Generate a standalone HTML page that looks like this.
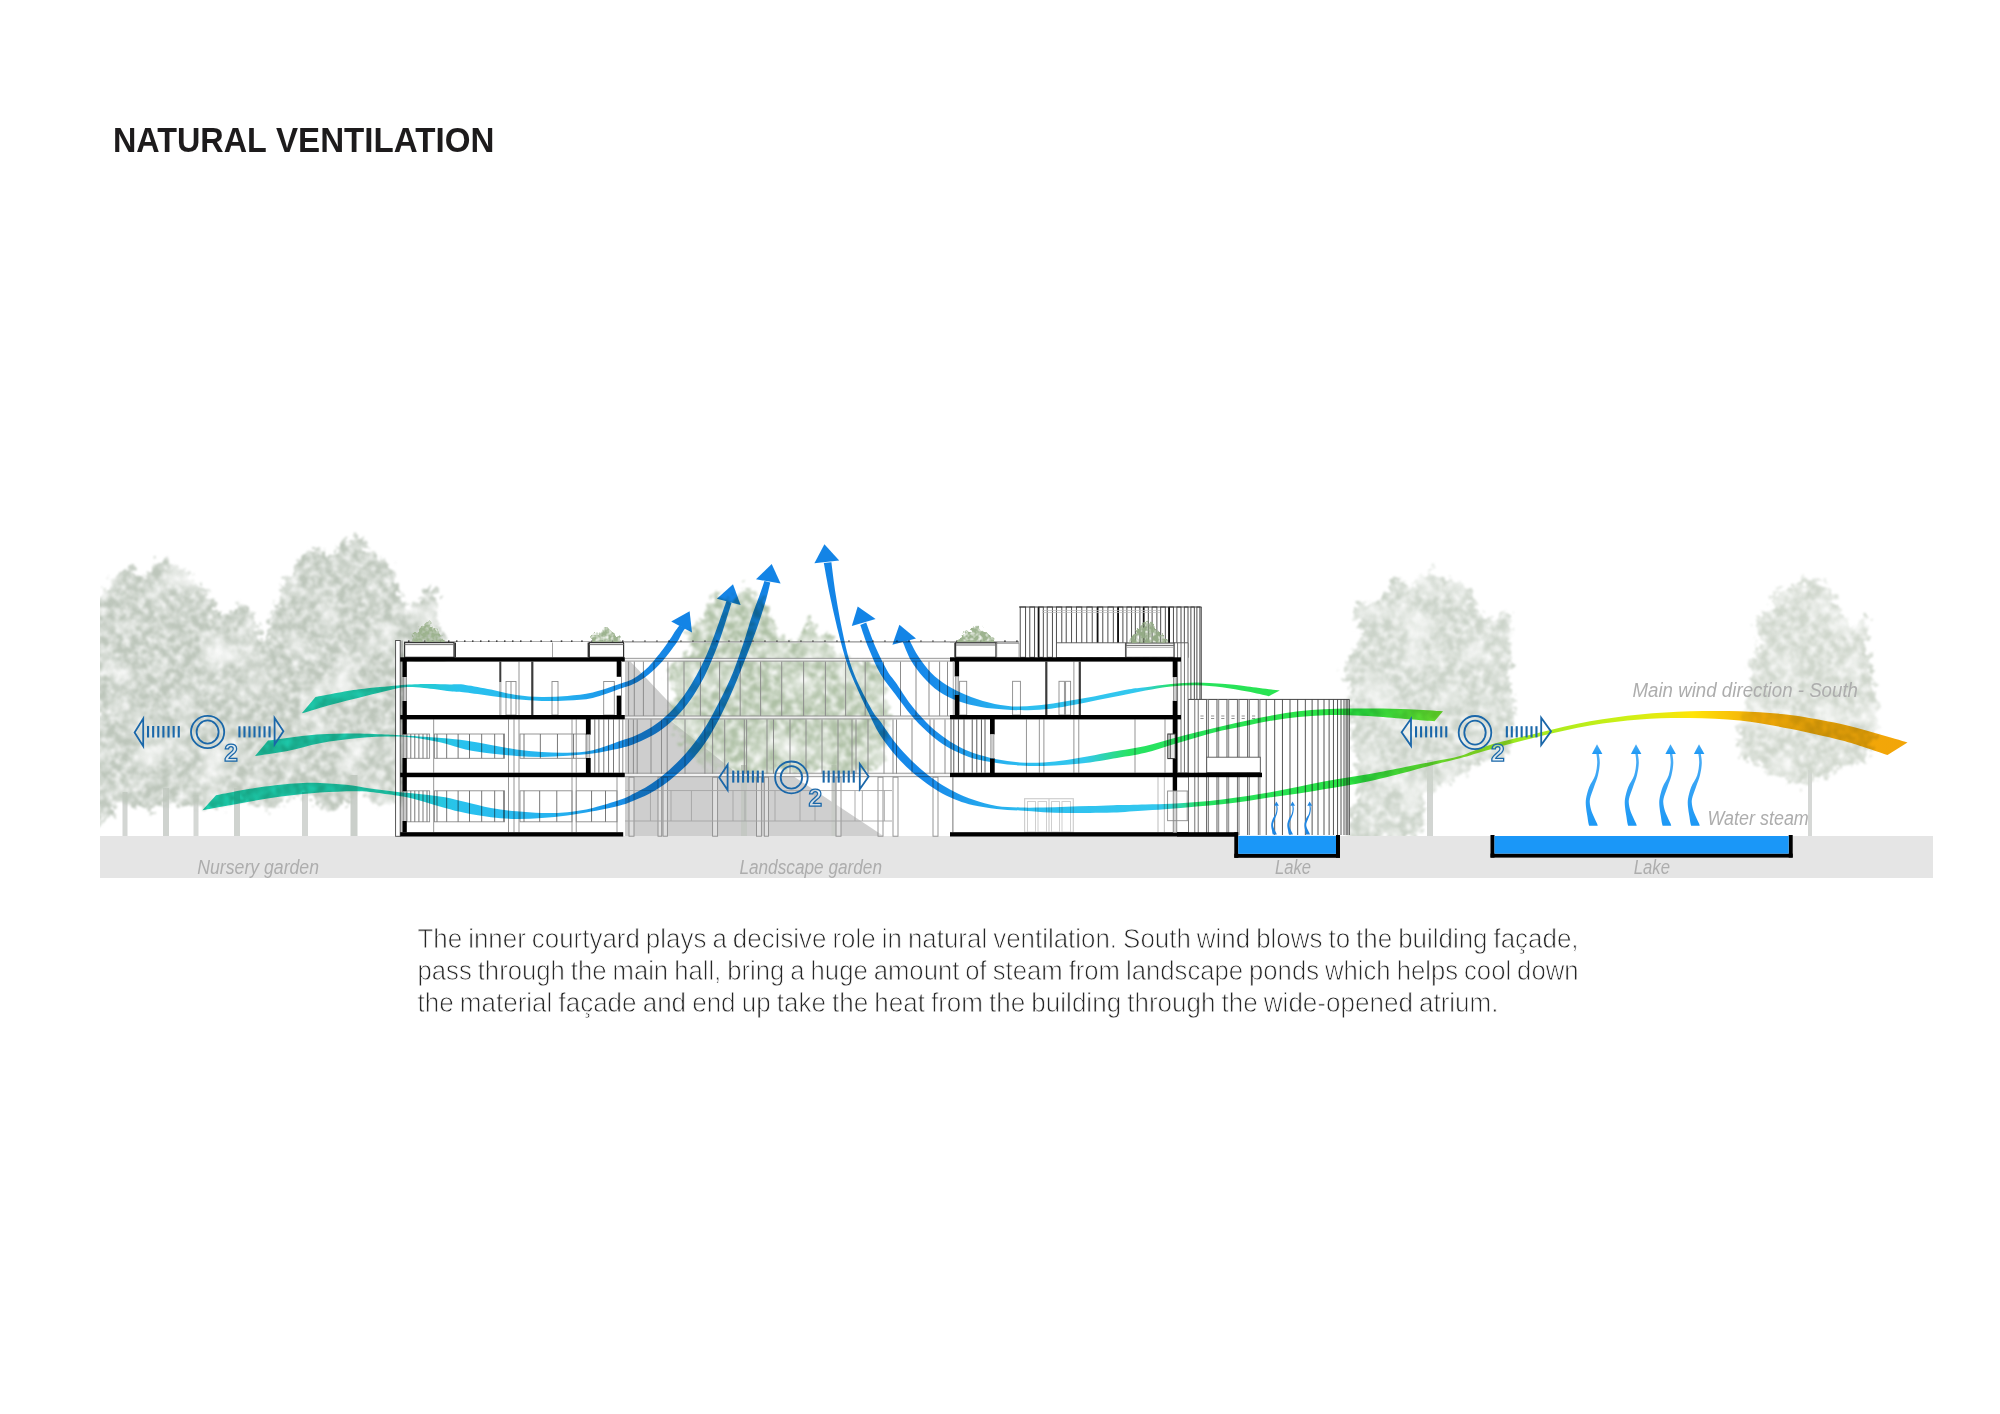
<!DOCTYPE html>
<html><head><meta charset="utf-8"><title>Natural Ventilation</title>
<style>
html,body{margin:0;padding:0;background:#fff;}
body{width:2000px;height:1414px;overflow:hidden;font-family:"Liberation Sans",sans-serif;}
svg{display:block;position:absolute;left:0;top:0;}
text{font-family:"Liberation Sans",sans-serif;}
</style></head><body>
<svg width="2000" height="1414" viewBox="0 0 2000 1414">
<defs>
<filter id="fol" x="-15%" y="-15%" width="130%" height="130%" color-interpolation-filters="sRGB">
  <feTurbulence type="fractalNoise" baseFrequency="0.035" numOctaves="2" seed="7" result="n"/>
  <feDisplacementMap in="SourceGraphic" in2="n" scale="16" xChannelSelector="R" yChannelSelector="G" result="d0"/>
  <feTurbulence type="fractalNoise" baseFrequency="0.17" numOctaves="2" seed="4" result="nn"/>
  <feDisplacementMap in="d0" in2="nn" scale="20" xChannelSelector="G" yChannelSelector="R" result="d"/>
  <feTurbulence type="fractalNoise" baseFrequency="0.13" numOctaves="3" seed="21" result="n2"/>
  <feColorMatrix in="n2" type="matrix" values="0 0 0 0 0  0 0 0 0 0  0 0 0 0 0  1.7 0 0 0 -0.12" result="m"/>
  <feTurbulence type="fractalNoise" baseFrequency="0.03" numOctaves="2" seed="33" result="n3"/>
  <feColorMatrix in="n3" type="matrix" values="0 0 0 0 0  0 0 0 0 0  0 0 0 0 0  0 2.2 0 0 -0.1" result="m3"/>
  <feComposite in="d" in2="m" operator="in" result="c"/>
  <feComposite in="c" in2="m3" operator="in" result="c2"/>
  <feGaussianBlur in="c2" stdDeviation="0.8"/>
</filter>
<filter id="fol2" x="-30%" y="-30%" width="160%" height="160%" color-interpolation-filters="sRGB">
  <feTurbulence type="fractalNoise" baseFrequency="0.2" numOctaves="2" seed="9" result="nn"/>
  <feDisplacementMap in="SourceGraphic" in2="nn" scale="9" xChannelSelector="G" yChannelSelector="R" result="d"/>
  <feTurbulence type="fractalNoise" baseFrequency="0.22" numOctaves="2" seed="5" result="n2"/>
  <feColorMatrix in="n2" type="matrix" values="0 0 0 0 0  0 0 0 0 0  0 0 0 0 0  2.2 0 0 0 -0.3" result="m"/>
  <feComposite in="d" in2="m" operator="in" result="c"/>
  <feGaussianBlur in="c" stdDeviation="0.6"/>
</filter>
<linearGradient id="gL" gradientUnits="userSpaceOnUse" x1="200" y1="0" x2="700" y2="0">
  <stop offset="0" stop-color="#16d2b0"/><stop offset="0.38" stop-color="#18d2b6"/>
  <stop offset="0.52" stop-color="#22c0ee"/><stop offset="0.72" stop-color="#1fb0f0"/>
  <stop offset="0.86" stop-color="#0f86e6"/><stop offset="1" stop-color="#0b7fe4"/>
</linearGradient>
<linearGradient id="gR1" gradientUnits="userSpaceOnUse" x1="820" y1="0" x2="1910" y2="0">
  <stop offset="0" stop-color="#0b80e6"/><stop offset="0.1" stop-color="#0f86ea"/>
  <stop offset="0.19" stop-color="#27bdf0"/><stop offset="0.294" stop-color="#2cc6ee"/>
  <stop offset="0.323" stop-color="#1fe25e"/><stop offset="0.5" stop-color="#25e23a"/>
  <stop offset="0.6" stop-color="#86e61e"/><stop offset="0.74" stop-color="#ccf00e"/>
  <stop offset="0.8" stop-color="#ffe400"/><stop offset="0.86" stop-color="#f4a800"/>
  <stop offset="1" stop-color="#f2a200"/>
</linearGradient>
<linearGradient id="gR2" gradientUnits="userSpaceOnUse" x1="820" y1="0" x2="1910" y2="0">
  <stop offset="0" stop-color="#0b80e6"/><stop offset="0.1" stop-color="#0f86ea"/>
  <stop offset="0.19" stop-color="#27bdf0"/><stop offset="0.243" stop-color="#2cc6ee"/>
  <stop offset="0.283" stop-color="#1fe25e"/><stop offset="0.5" stop-color="#25e23a"/>
  <stop offset="0.6" stop-color="#86e61e"/><stop offset="0.74" stop-color="#ccf00e"/>
  <stop offset="0.8" stop-color="#ffe400"/><stop offset="0.86" stop-color="#f4a800"/>
  <stop offset="1" stop-color="#f2a200"/>
</linearGradient>
<linearGradient id="gR3" gradientUnits="userSpaceOnUse" x1="820" y1="0" x2="1910" y2="0">
  <stop offset="0" stop-color="#0b80e6"/><stop offset="0.1" stop-color="#0f86ea"/>
  <stop offset="0.19" stop-color="#27bdf0"/><stop offset="0.312" stop-color="#2cc6ee"/>
  <stop offset="0.349" stop-color="#1fe25e"/><stop offset="0.5" stop-color="#25e23a"/>
  <stop offset="0.6" stop-color="#86e61e"/><stop offset="0.74" stop-color="#ccf00e"/>
  <stop offset="0.8" stop-color="#ffe400"/><stop offset="0.86" stop-color="#f4a800"/>
  <stop offset="1" stop-color="#f2a200"/>
</linearGradient>
<linearGradient id="gS" x1="0" y1="1" x2="0" y2="0">
  <stop offset="0" stop-color="#1c98f5"/><stop offset="1" stop-color="#4badf5"/>
</linearGradient>
</defs>
<clipPath id="cpL"><rect x="100" y="500" width="560" height="336"/></clipPath>
<g opacity="1.0" clip-path="url(#cpL)"><rect x="122.5" y="792.0" width="5.0" height="44.0" fill="#d3d6d3"/><rect x="163.0" y="788.0" width="6.0" height="48.0" fill="#cfd3cf"/><rect x="193.5" y="795.0" width="5.0" height="41.0" fill="#d5d8d5"/><rect x="234.0" y="788.0" width="6.0" height="48.0" fill="#cfd3cf"/><rect x="302.0" y="792.0" width="6.0" height="44.0" fill="#d3d6d3"/><rect x="350.5" y="775.0" width="7.0" height="61.0" fill="#cacfca"/><g filter="url(#fol)" fill="#bdc6bb"><path d="M96.0 598.0 C98.3 595.8 105.7 589.7 110.0 585.0 C114.3 580.3 118.3 573.2 122.0 570.0 C125.7 566.8 128.0 564.7 132.0 566.0 C136.0 567.3 142.0 578.0 146.0 578.0 C150.0 578.0 152.5 569.7 156.0 566.0 C159.5 562.3 163.3 556.0 167.0 556.0 C170.7 556.0 173.7 562.0 178.0 566.0 C182.3 570.0 188.5 576.0 193.0 580.0 C197.5 584.0 201.5 586.7 205.0 590.0 C208.5 593.3 211.2 596.0 214.0 600.0 C216.8 604.0 218.3 612.3 222.0 614.0 C225.7 615.7 231.7 612.0 236.0 610.0 C240.3 608.0 244.7 600.3 248.0 602.0 C251.3 603.7 253.7 613.7 256.0 620.0 C258.3 626.3 259.7 636.7 262.0 640.0 C264.3 643.3 268.0 645.0 270.0 640.0 C272.0 635.0 272.3 619.2 274.0 610.0 C275.7 600.8 277.3 590.8 280.0 585.0 C282.7 579.2 286.7 578.8 290.0 575.0 C293.3 571.2 296.0 566.7 300.0 562.0 C304.0 557.3 309.3 548.0 314.0 547.0 C318.7 546.0 323.7 555.8 328.0 556.0 C332.3 556.2 335.7 551.2 340.0 548.0 C344.3 544.8 349.7 537.0 354.0 537.0 C358.3 537.0 361.7 544.8 366.0 548.0 C370.3 551.2 376.0 552.7 380.0 556.0 C384.0 559.3 386.7 562.3 390.0 568.0 C393.3 573.7 397.0 583.7 400.0 590.0 C403.0 596.3 404.7 604.3 408.0 606.0 C411.3 607.7 415.7 603.7 420.0 600.0 C424.3 596.3 430.3 584.0 434.0 584.0 C437.7 584.0 441.0 592.3 442.0 600.0 C443.0 607.7 439.3 620.0 440.0 630.0 C440.7 640.0 446.3 648.3 446.0 660.0 C445.7 671.7 438.7 686.7 438.0 700.0 C437.3 713.3 442.3 726.7 442.0 740.0 C441.7 753.3 439.0 770.0 436.0 780.0 C433.0 790.0 430.8 795.7 424.0 800.0 C417.2 804.3 405.7 806.3 395.0 806.0 C384.3 805.7 370.8 797.7 360.0 798.0 C349.2 798.3 340.0 808.2 330.0 808.0 C320.0 807.8 310.0 797.0 300.0 797.0 C290.0 797.0 280.0 807.2 270.0 808.0 C260.0 808.8 249.2 801.7 240.0 802.0 C230.8 802.3 225.0 810.0 215.0 810.0 C205.0 810.0 190.8 802.0 180.0 802.0 C169.2 802.0 160.0 810.0 150.0 810.0 C140.0 810.0 129.0 802.3 120.0 802.0 C111.0 801.7 100.0 842.0 96.0 808.0 C92.0 774.0 96.0 633.0 96.0 598.0 Z"/></g></g>
<g opacity="1.0" clip-path="url(#cpL2)"><rect x="1427.0" y="760.0" width="6.0" height="76.0" fill="#d2d5d2"/><g filter="url(#fol)" fill="#cbd3c9"><path d="M1429.6 566.0 C1431.8 567.9 1437.6 574.3 1442.7 577.3 C1447.8 580.3 1454.5 579.4 1460.3 583.8 C1466.1 588.2 1472.7 597.0 1477.8 603.6 C1482.9 610.2 1485.9 621.8 1491.0 623.3 C1496.1 624.8 1504.7 609.0 1508.5 612.3 C1512.3 615.6 1514.0 631.7 1514.0 643.0 C1514.0 654.3 1508.5 668.2 1508.5 680.3 C1508.5 692.3 1514.0 703.6 1514.0 715.3 C1514.0 727.0 1512.3 743.1 1508.5 750.4 C1504.7 757.7 1496.8 756.1 1491.0 759.0 C1485.2 761.9 1479.2 764.7 1473.4 768.0 C1467.6 771.3 1461.0 775.7 1455.9 779.0 C1450.8 782.3 1447.8 785.5 1442.7 787.7 C1437.6 789.9 1428.5 786.5 1425.2 792.0 C1421.9 797.5 1424.5 813.5 1423.0 820.5 C1421.5 827.5 1422.6 831.1 1416.4 834.0 C1410.2 836.9 1396.8 837.3 1385.8 838.0 C1374.8 838.7 1356.2 843.8 1350.7 838.0 C1345.2 832.2 1352.2 814.3 1352.9 803.0 C1353.6 791.7 1355.0 781.0 1355.0 770.0 C1355.0 759.0 1353.6 747.9 1352.9 737.3 C1352.2 726.7 1351.1 715.4 1350.7 706.6 C1350.3 697.8 1352.2 690.9 1350.7 684.7 C1349.2 678.5 1340.5 675.1 1342.0 669.3 C1343.5 663.4 1355.9 655.8 1359.5 649.6 C1363.1 643.4 1364.2 638.9 1363.8 632.0 C1363.4 625.1 1355.5 613.1 1357.3 608.0 C1359.1 602.9 1370.0 604.3 1374.8 601.4 C1379.5 598.5 1382.9 594.4 1385.8 590.4 C1388.7 586.4 1387.2 578.4 1392.3 577.3 C1397.4 576.2 1410.2 585.7 1416.4 583.8 C1422.6 581.9 1427.4 569.0 1429.6 566.0 Z"/></g></g>
<clipPath id="cpL2"><rect x="1300" y="500" width="700" height="336"/></clipPath>
<g opacity="1.0"><rect x="1808.0" y="770.0" width="4.0" height="66.0" fill="#d6d8d6"/><g filter="url(#fol)" fill="#cfd6cc"><path d="M1808.2 576.0 C1810.1 577.2 1816.1 580.8 1819.7 583.3 C1823.3 585.8 1826.5 587.2 1829.9 591.0 C1833.3 594.8 1836.2 600.3 1840.0 606.2 C1843.8 612.1 1847.7 624.5 1852.8 626.6 C1857.9 628.7 1868.5 616.5 1870.6 619.0 C1872.7 621.5 1865.1 634.6 1865.5 641.8 C1865.9 649.0 1872.2 653.7 1873.1 662.2 C1873.9 670.7 1869.8 682.5 1870.6 692.7 C1871.4 702.9 1879.0 712.2 1878.2 723.3 C1877.4 734.3 1869.7 752.2 1865.5 759.0 C1861.3 765.8 1859.2 761.5 1852.8 764.0 C1846.4 766.5 1835.4 770.8 1827.3 774.2 C1819.2 777.6 1811.6 783.5 1804.4 784.4 C1797.2 785.2 1792.5 782.7 1784.0 779.3 C1775.5 775.9 1761.1 769.9 1753.5 764.0 C1745.9 758.1 1739.0 755.6 1738.2 743.7 C1737.4 731.8 1746.7 705.4 1748.4 692.7 C1750.1 680.0 1746.3 674.9 1748.4 667.3 C1750.5 659.7 1759.7 655.5 1761.0 647.0 C1762.3 638.5 1754.3 623.2 1756.0 616.4 C1757.7 609.6 1767.9 610.9 1771.3 606.2 C1774.7 601.5 1773.5 590.9 1776.4 588.4 C1779.4 585.9 1783.7 593.1 1789.0 591.0 C1794.3 588.9 1805.0 578.5 1808.2 576.0 Z"/></g></g>
<rect x="100" y="836" width="1833" height="42" fill="#e5e5e5"/>
<g id="atrium">
<g fill="#c4c4c4" opacity="0.82"><polygon points="625,661.6 630.5,661.6 682,716 625,716"/><polygon points="625,716 667.6,718.6 737,773.2 625,773.2"/><polygon points="625,773.2 793,776 883.5,836 625,836"/></g>
<g opacity="1.0"><rect x="741.0" y="765.0" width="6.0" height="71.0" fill="#c4c8c3"/><rect x="831.5" y="765.0" width="5.0" height="71.0" fill="#c9ccc8"/><g filter="url(#fol)" fill="#aec0a5"><path d="M745.0 582.0 C747.1 584.7 754.1 593.8 757.7 598.0 C761.3 602.2 763.7 602.5 766.7 607.0 C769.7 611.5 772.4 619.0 775.8 625.0 C779.2 631.0 783.2 641.1 787.0 643.0 C790.8 644.9 794.6 640.5 798.4 636.4 C802.2 632.3 805.9 618.6 809.7 618.5 C813.5 618.4 817.2 633.8 821.0 636.0 C824.8 638.2 829.6 629.3 832.4 632.0 C835.2 634.7 832.4 646.7 838.0 652.0 C843.6 657.3 859.7 662.3 866.3 664.0 C872.9 665.7 874.2 657.9 877.6 662.0 C881.0 666.1 884.4 680.2 886.7 688.4 C889.0 696.6 891.5 703.5 891.2 711.0 C890.9 718.5 885.7 726.2 885.0 733.7 C884.3 741.2 890.1 750.3 887.0 756.3 C883.9 762.3 873.5 766.9 866.3 769.9 C859.1 772.9 851.2 774.4 843.7 774.4 C836.2 774.4 828.5 769.5 821.0 769.9 C813.5 770.3 805.9 776.7 798.4 776.7 C790.9 776.7 783.4 770.3 775.8 769.9 C768.2 769.5 760.5 774.4 753.0 774.4 C745.5 774.4 738.0 771.0 730.5 769.9 C723.0 768.8 713.9 769.5 707.9 767.6 C701.9 765.7 698.1 762.0 694.3 758.6 C690.5 755.2 688.4 753.0 685.0 747.0 C681.6 741.0 677.0 729.8 674.0 722.3 C671.0 714.8 666.6 706.5 667.0 702.0 C667.4 697.5 675.8 699.5 676.2 695.0 C676.6 690.5 669.8 679.7 669.4 674.8 C669.0 669.9 670.2 670.3 674.0 665.8 C677.8 661.3 689.4 653.4 692.0 647.7 C694.6 642.0 688.7 636.3 689.8 631.8 C690.9 627.3 695.8 625.0 698.8 620.5 C701.8 616.0 705.4 609.3 708.0 604.7 C710.6 600.1 711.0 594.1 714.7 593.0 C718.5 591.9 725.5 599.8 730.5 598.0 C735.5 596.2 742.6 584.7 745.0 582.0 Z"/></g></g>
<rect x="625" y="658.3" width="325" height="2.8" fill="#f4f4f4" opacity="0.85"/>
<rect x="625.0" y="657.85" width="325.0" height="0.90" fill="#8d8d8d"/>
<rect x="625.0" y="660.65" width="325.0" height="0.90" fill="#8d8d8d"/>
<rect x="625" y="716.0" width="325" height="2.9" fill="#f4f4f4" opacity="0.85"/>
<rect x="625.0" y="715.55" width="325.0" height="0.90" fill="#8d8d8d"/>
<rect x="625.0" y="718.45" width="325.0" height="0.90" fill="#8d8d8d"/>
<rect x="625" y="773.2" width="325" height="3.5" fill="#f4f4f4" opacity="0.85"/>
<rect x="625.0" y="772.75" width="325.0" height="0.90" fill="#8d8d8d"/>
<rect x="625.0" y="776.25" width="325.0" height="0.90" fill="#8d8d8d"/>
<rect x="404.0" y="641.20" width="615.0" height="0.80" fill="#9a9a9a"/>
<rect x="408.0" y="640.4" width="1.5" height="1.5" fill="#333"/>
<rect x="416.0" y="640.4" width="1.5" height="1.5" fill="#333"/>
<rect x="424.0" y="640.4" width="1.5" height="1.5" fill="#333"/>
<rect x="432.0" y="640.4" width="1.5" height="1.5" fill="#333"/>
<rect x="440.0" y="640.4" width="1.5" height="1.5" fill="#333"/>
<rect x="448.0" y="640.4" width="1.5" height="1.5" fill="#333"/>
<rect x="456.0" y="640.4" width="1.5" height="1.5" fill="#333"/>
<rect x="464.0" y="640.4" width="1.5" height="1.5" fill="#333"/>
<rect x="472.0" y="640.4" width="1.5" height="1.5" fill="#333"/>
<rect x="480.0" y="640.4" width="1.5" height="1.5" fill="#333"/>
<rect x="488.0" y="640.4" width="1.5" height="1.5" fill="#333"/>
<rect x="496.0" y="640.4" width="1.5" height="1.5" fill="#333"/>
<rect x="504.0" y="640.4" width="1.5" height="1.5" fill="#333"/>
<rect x="512.0" y="640.4" width="1.5" height="1.5" fill="#333"/>
<rect x="520.0" y="640.4" width="1.5" height="1.5" fill="#333"/>
<rect x="530.2" y="640.4" width="1.5" height="1.5" fill="#333"/>
<rect x="540.4" y="640.4" width="1.5" height="1.5" fill="#333"/>
<rect x="550.6" y="640.4" width="1.5" height="1.5" fill="#333"/>
<rect x="560.8" y="640.4" width="1.5" height="1.5" fill="#333"/>
<rect x="571.0" y="640.4" width="1.5" height="1.5" fill="#333"/>
<rect x="581.2" y="640.4" width="1.5" height="1.5" fill="#333"/>
<rect x="591.4" y="640.4" width="1.5" height="1.5" fill="#333"/>
<rect x="601.6" y="640.4" width="1.5" height="1.5" fill="#333"/>
<rect x="611.8" y="640.4" width="1.5" height="1.5" fill="#333"/>
<rect x="622.0" y="640.4" width="1.5" height="1.5" fill="#333"/>
<rect x="632.2" y="640.4" width="1.5" height="1.5" fill="#555"/>
<rect x="644.2" y="640.4" width="1.5" height="1.5" fill="#555"/>
<rect x="656.2" y="640.4" width="1.5" height="1.5" fill="#555"/>
<rect x="668.2" y="640.4" width="1.5" height="1.5" fill="#555"/>
<rect x="680.2" y="640.4" width="1.5" height="1.5" fill="#555"/>
<rect x="692.2" y="640.4" width="1.5" height="1.5" fill="#555"/>
<rect x="704.2" y="640.4" width="1.5" height="1.5" fill="#555"/>
<rect x="716.2" y="640.4" width="1.5" height="1.5" fill="#555"/>
<rect x="728.2" y="640.4" width="1.5" height="1.5" fill="#555"/>
<rect x="740.2" y="640.4" width="1.5" height="1.5" fill="#555"/>
<rect x="752.2" y="640.4" width="1.5" height="1.5" fill="#555"/>
<rect x="764.2" y="640.4" width="1.5" height="1.5" fill="#555"/>
<rect x="776.2" y="640.4" width="1.5" height="1.5" fill="#555"/>
<rect x="788.2" y="640.4" width="1.5" height="1.5" fill="#555"/>
<rect x="800.2" y="640.4" width="1.5" height="1.5" fill="#555"/>
<rect x="812.2" y="640.4" width="1.5" height="1.5" fill="#555"/>
<rect x="824.2" y="640.4" width="1.5" height="1.5" fill="#555"/>
<rect x="836.2" y="640.4" width="1.5" height="1.5" fill="#555"/>
<rect x="848.2" y="640.4" width="1.5" height="1.5" fill="#555"/>
<rect x="860.2" y="640.4" width="1.5" height="1.5" fill="#555"/>
<rect x="872.2" y="640.4" width="1.5" height="1.5" fill="#555"/>
<rect x="884.2" y="640.4" width="1.5" height="1.5" fill="#555"/>
<rect x="896.2" y="640.4" width="1.5" height="1.5" fill="#555"/>
<rect x="908.2" y="640.4" width="1.5" height="1.5" fill="#555"/>
<rect x="920.2" y="640.4" width="1.5" height="1.5" fill="#555"/>
<rect x="932.2" y="640.4" width="1.5" height="1.5" fill="#555"/>
<rect x="944.2" y="640.4" width="1.5" height="1.5" fill="#555"/>
<rect x="956.2" y="640.4" width="1.5" height="1.5" fill="#333"/>
<rect x="968.2" y="640.4" width="1.5" height="1.5" fill="#333"/>
<rect x="980.2" y="640.4" width="1.5" height="1.5" fill="#333"/>
<rect x="992.2" y="640.4" width="1.5" height="1.5" fill="#333"/>
<rect x="1004.2" y="640.4" width="1.5" height="1.5" fill="#333"/>
<rect x="1016.2" y="640.4" width="1.5" height="1.5" fill="#333"/>
<rect x="625.0" y="642.20" width="325.0" height="0.80" fill="#bbb"/>
<rect x="628.10" y="661.6" width="1.00" height="54.4" fill="#8d8d8d"/>
<rect x="633.80" y="661.6" width="1.00" height="54.4" fill="#8d8d8d"/>
<rect x="642.90" y="661.6" width="1.00" height="54.4" fill="#8d8d8d"/>
<rect x="653.50" y="661.6" width="1.00" height="54.4" fill="#8d8d8d"/>
<rect x="667.40" y="661.6" width="1.00" height="54.4" fill="#8d8d8d"/>
<rect x="683.50" y="661.6" width="1.00" height="54.4" fill="#8d8d8d"/>
<rect x="699.90" y="661.6" width="1.00" height="54.4" fill="#8d8d8d"/>
<rect x="719.10" y="661.6" width="1.00" height="54.4" fill="#8d8d8d"/>
<rect x="739.70" y="661.6" width="1.00" height="54.4" fill="#8d8d8d"/>
<rect x="760.10" y="661.6" width="1.00" height="54.4" fill="#8d8d8d"/>
<rect x="781.20" y="661.6" width="1.00" height="54.4" fill="#8d8d8d"/>
<rect x="803.10" y="661.6" width="1.00" height="54.4" fill="#8d8d8d"/>
<rect x="824.90" y="661.6" width="1.00" height="54.4" fill="#8d8d8d"/>
<rect x="845.10" y="661.6" width="1.00" height="54.4" fill="#8d8d8d"/>
<rect x="864.70" y="661.6" width="1.00" height="54.4" fill="#8d8d8d"/>
<rect x="883.00" y="661.6" width="1.00" height="54.4" fill="#8d8d8d"/>
<rect x="900.00" y="661.6" width="1.00" height="54.4" fill="#8d8d8d"/>
<rect x="915.50" y="661.6" width="1.00" height="54.4" fill="#8d8d8d"/>
<rect x="928.50" y="661.6" width="1.00" height="54.4" fill="#8d8d8d"/>
<rect x="939.10" y="661.6" width="1.00" height="54.4" fill="#8d8d8d"/>
<rect x="947.00" y="661.6" width="1.00" height="54.4" fill="#8d8d8d"/>
<rect x="622.30" y="719.4" width="1.00" height="54.3" fill="#8d8d8d"/>
<rect x="628.00" y="719.4" width="1.00" height="54.3" fill="#8d8d8d"/>
<rect x="632.90" y="719.4" width="1.00" height="54.3" fill="#8d8d8d"/>
<rect x="636.70" y="719.4" width="1.00" height="54.3" fill="#8d8d8d"/>
<rect x="650.50" y="719.4" width="1.00" height="54.3" fill="#8d8d8d"/>
<rect x="661.00" y="719.4" width="1.00" height="54.3" fill="#8d8d8d"/>
<rect x="666.70" y="719.4" width="1.00" height="54.3" fill="#8d8d8d"/>
<rect x="684.50" y="719.4" width="1.00" height="54.3" fill="#8d8d8d"/>
<rect x="704.40" y="719.4" width="1.00" height="54.3" fill="#8d8d8d"/>
<rect x="712.10" y="719.4" width="1.00" height="54.3" fill="#8d8d8d"/>
<rect x="724.20" y="719.4" width="1.00" height="54.3" fill="#8d8d8d"/>
<rect x="743.80" y="719.4" width="1.00" height="54.3" fill="#8d8d8d"/>
<rect x="746.10" y="719.4" width="1.00" height="54.3" fill="#8d8d8d"/>
<rect x="766.50" y="719.4" width="1.00" height="54.3" fill="#8d8d8d"/>
<rect x="773.00" y="719.4" width="1.00" height="54.3" fill="#8d8d8d"/>
<rect x="789.50" y="719.4" width="1.00" height="54.3" fill="#8d8d8d"/>
<rect x="805.50" y="719.4" width="1.00" height="54.3" fill="#8d8d8d"/>
<rect x="821.50" y="719.4" width="1.00" height="54.3" fill="#8d8d8d"/>
<rect x="837.50" y="719.4" width="1.00" height="54.3" fill="#8d8d8d"/>
<rect x="851.50" y="719.4" width="1.00" height="54.3" fill="#8d8d8d"/>
<rect x="855.50" y="719.4" width="1.00" height="54.3" fill="#8d8d8d"/>
<rect x="867.50" y="719.4" width="1.00" height="54.3" fill="#8d8d8d"/>
<rect x="883.50" y="719.4" width="1.00" height="54.3" fill="#8d8d8d"/>
<rect x="892.50" y="719.4" width="1.00" height="54.3" fill="#8d8d8d"/>
<rect x="896.00" y="719.4" width="1.00" height="54.3" fill="#8d8d8d"/>
<rect x="911.50" y="719.4" width="1.00" height="54.3" fill="#8d8d8d"/>
<rect x="929.50" y="719.4" width="1.00" height="54.3" fill="#8d8d8d"/>
<rect x="933.50" y="719.4" width="1.00" height="54.3" fill="#8d8d8d"/>
<rect x="944.50" y="719.4" width="1.00" height="54.3" fill="#8d8d8d"/>
<rect x="629.0" y="777.2" width="5.0" height="59.0" fill="#fff" fill-opacity="0.35" stroke="#8d8d8d" stroke-width="0.9"/>
<rect x="658.0" y="777.2" width="3.7" height="59.0" fill="#fff" fill-opacity="0.35" stroke="#8d8d8d" stroke-width="0.9"/>
<rect x="663.0" y="777.2" width="4.4" height="59.0" fill="#fff" fill-opacity="0.35" stroke="#8d8d8d" stroke-width="0.9"/>
<rect x="712.6" y="777.2" width="5.0" height="59.0" fill="#fff" fill-opacity="0.35" stroke="#8d8d8d" stroke-width="0.9"/>
<rect x="756.5" y="777.2" width="4.9" height="59.0" fill="#fff" fill-opacity="0.35" stroke="#8d8d8d" stroke-width="0.9"/>
<rect x="764.3" y="777.2" width="4.2" height="59.0" fill="#fff" fill-opacity="0.35" stroke="#8d8d8d" stroke-width="0.9"/>
<rect x="836.0" y="777.2" width="5.0" height="59.0" fill="#fff" fill-opacity="0.35" stroke="#8d8d8d" stroke-width="0.9"/>
<rect x="878.0" y="777.2" width="5.0" height="59.0" fill="#fff" fill-opacity="0.35" stroke="#8d8d8d" stroke-width="0.9"/>
<rect x="893.0" y="777.2" width="5.0" height="59.0" fill="#fff" fill-opacity="0.35" stroke="#8d8d8d" stroke-width="0.9"/>
<rect x="933.0" y="777.2" width="5.0" height="59.0" fill="#fff" fill-opacity="0.35" stroke="#8d8d8d" stroke-width="0.9"/>
<rect x="625.0" y="790.15" width="267.0" height="0.90" fill="#a5a5a5"/>
<rect x="625.0" y="820.55" width="267.0" height="0.90" fill="#a5a5a5"/>
<rect x="649.95" y="790.6" width="0.90" height="30.4" fill="#a5a5a5"/>
<rect x="670.55" y="790.6" width="0.90" height="30.4" fill="#a5a5a5"/>
<rect x="690.95" y="790.6" width="0.90" height="30.4" fill="#a5a5a5"/>
<rect x="732.55" y="790.6" width="0.90" height="30.4" fill="#a5a5a5"/>
<rect x="744.55" y="790.6" width="0.90" height="30.4" fill="#a5a5a5"/>
<rect x="774.55" y="790.6" width="0.90" height="30.4" fill="#a5a5a5"/>
<rect x="799.55" y="790.6" width="0.90" height="30.4" fill="#a5a5a5"/>
<rect x="814.55" y="790.6" width="0.90" height="30.4" fill="#a5a5a5"/>
<rect x="854.55" y="790.6" width="0.90" height="30.4" fill="#a5a5a5"/>
<rect x="861.85" y="790.6" width="0.90" height="30.4" fill="#a5a5a5"/>
<rect x="883.85" y="790.6" width="0.90" height="30.4" fill="#a5a5a5"/>
</g>
<g filter="url(#fol2)" fill="#9db38f"><path d="M411.0 644.0 C411.2 642.8 410.8 639.3 412.0 637.0 C413.2 634.7 416.1 632.2 418.2 630.0 C420.3 627.8 422.9 625.3 424.6 624.0 C426.3 622.7 426.9 621.2 428.6 622.0 C430.3 622.8 432.8 626.5 435.0 629.0 C437.2 631.5 440.7 634.5 442.0 637.0 C443.3 639.5 448.2 642.8 443.0 644.0 C437.8 645.2 416.3 644.0 411.0 644.0 Z"/></g>
<g filter="url(#fol2)" fill="#9db38f"><path d="M591.0 644.0 C591.2 642.8 590.9 638.8 592.0 637.0 C593.1 635.2 595.6 634.3 597.5 633.0 C599.4 631.7 601.8 630.0 603.3 629.0 C604.9 628.0 605.4 626.5 607.0 627.0 C608.5 627.5 610.7 630.6 612.8 632.2 C614.8 633.9 617.8 635.0 619.0 637.0 C620.2 639.0 624.7 642.8 620.0 644.0 C615.3 645.2 595.8 644.0 591.0 644.0 Z"/></g>
<g filter="url(#fol2)" fill="#9db38f"><path d="M958.0 645.0 C958.2 643.8 957.6 640.0 959.0 638.0 C960.4 636.0 963.7 634.5 966.1 632.8 C968.5 631.1 971.3 629.1 973.3 628.0 C975.2 626.9 975.8 625.3 977.8 626.0 C979.8 626.7 982.5 630.0 985.0 632.0 C987.5 634.0 991.5 635.8 993.0 638.0 C994.5 640.2 999.8 643.8 994.0 645.0 C988.2 646.2 964.0 645.0 958.0 645.0 Z"/></g>
<g id="leftb">
<rect x="404.0" y="642.0" width="220.0" height="15.3" fill="#fff" />
<rect x="406.8" y="661.6" width="210.0" height="170.6" fill="#fff" />
<rect x="395.6" y="640.5" width="4.6" height="195.8" fill="#fff" stroke="#444" stroke-width="0.9"/>
<rect x="401.60" y="640.5" width="0.80" height="195.5" fill="#777"/>
<rect x="404.6" y="642.6" width="49.4" height="14.7" fill="#fff" stroke="#333" stroke-width="1.2"/>
<rect x="404.6" y="644.10" width="49.4" height="1.00" fill="#777"/>
<rect x="589.3" y="642.6" width="34.3" height="14.7" fill="#fff" stroke="#333" stroke-width="1.2"/>
<rect x="589.3" y="644.10" width="34.3" height="1.00" fill="#777"/>
<rect x="552.05" y="642.6" width="0.90" height="14.7" fill="#999"/>
<rect x="454.40" y="642.6" width="1.60" height="14.7" fill="#333"/>
<rect x="587.60" y="642.6" width="1.60" height="14.7" fill="#333"/>
<rect x="499.30" y="661.6" width="2.00" height="20.4" fill="#3c3c3c"/>
<rect x="499.10" y="682.0" width="2.40" height="33.0" fill="#bdbdbd"/>
<rect x="531.20" y="661.6" width="2.20" height="53.4" fill="#3c3c3c"/>
<rect x="518.55" y="661.6" width="0.90" height="53.4" fill="#8a8a8a"/>
<rect x="506.0" y="681.5" width="10.0" height="33.5" fill="none" stroke="#8a8a8a" stroke-width="0.9"/>
<rect x="552.0" y="681.5" width="6.0" height="33.5" fill="none" stroke="#8a8a8a" stroke-width="0.9"/>
<rect x="603.7" y="681.5" width="10.6" height="33.5" fill="none" stroke="#8a8a8a" stroke-width="0.9"/>
<rect x="510.55" y="681.5" width="0.90" height="33.5" fill="#8a8a8a"/>
<rect x="433.25" y="719.4" width="0.90" height="53.3" fill="#8a8a8a"/>
<rect x="508.05" y="719.4" width="0.90" height="53.3" fill="#8a8a8a"/>
<rect x="513.55" y="719.4" width="0.90" height="53.3" fill="#8a8a8a"/>
<rect x="518.55" y="719.4" width="0.90" height="53.3" fill="#8a8a8a"/>
<rect x="571.55" y="719.4" width="0.90" height="53.3" fill="#8a8a8a"/>
<rect x="575.75" y="719.4" width="0.90" height="53.3" fill="#8a8a8a"/>
<rect x="407.0" y="734.0" width="22.6" height="24.3" fill="none" stroke="#8a8a8a" stroke-width="0.9"/>
<rect x="410.35" y="734.0" width="0.90" height="24.3" fill="#6a6a6a"/>
<rect x="414.35" y="734.0" width="0.90" height="24.3" fill="#6a6a6a"/>
<rect x="418.45" y="734.0" width="0.90" height="24.3" fill="#6a6a6a"/>
<rect x="422.55" y="734.0" width="0.90" height="24.3" fill="#6a6a6a"/>
<rect x="426.55" y="734.0" width="0.90" height="24.3" fill="#6a6a6a"/>
<rect x="434.5" y="734.0" width="70.0" height="24.3" fill="none" stroke="#8a8a8a" stroke-width="0.9"/>
<rect x="436.55" y="734.0" width="0.90" height="24.3" fill="#6a6a6a"/>
<rect x="446.25" y="734.0" width="0.90" height="24.3" fill="#6a6a6a"/>
<rect x="457.65" y="734.0" width="0.90" height="24.3" fill="#6a6a6a"/>
<rect x="469.05" y="734.0" width="0.90" height="24.3" fill="#6a6a6a"/>
<rect x="481.25" y="734.0" width="0.90" height="24.3" fill="#6a6a6a"/>
<rect x="494.25" y="734.0" width="0.90" height="24.3" fill="#6a6a6a"/>
<rect x="503.25" y="734.0" width="0.90" height="24.3" fill="#6a6a6a"/>
<rect x="520.0" y="734.0" width="66.0" height="24.3" fill="none" stroke="#8a8a8a" stroke-width="0.9"/>
<rect x="523.55" y="734.0" width="0.90" height="24.3" fill="#6a6a6a"/>
<rect x="539.85" y="734.0" width="0.90" height="24.3" fill="#6a6a6a"/>
<rect x="556.95" y="734.0" width="0.90" height="24.3" fill="#6a6a6a"/>
<rect x="573.15" y="734.0" width="0.90" height="24.3" fill="#6a6a6a"/>
<rect x="594.35" y="719.4" width="0.90" height="53.3" fill="#6a6a6a"/>
<rect x="598.45" y="719.4" width="0.90" height="53.3" fill="#6a6a6a"/>
<rect x="603.35" y="719.4" width="0.90" height="53.3" fill="#6a6a6a"/>
<rect x="608.15" y="719.4" width="0.90" height="53.3" fill="#6a6a6a"/>
<rect x="613.05" y="719.4" width="0.90" height="53.3" fill="#6a6a6a"/>
<rect x="618.75" y="719.4" width="0.90" height="53.3" fill="#6a6a6a"/>
<rect x="433.25" y="777.2" width="0.90" height="55.0" fill="#8a8a8a"/>
<rect x="508.05" y="777.2" width="0.90" height="55.0" fill="#8a8a8a"/>
<rect x="513.55" y="777.2" width="0.90" height="55.0" fill="#8a8a8a"/>
<rect x="518.55" y="777.2" width="0.90" height="55.0" fill="#8a8a8a"/>
<rect x="571.55" y="777.2" width="0.90" height="55.0" fill="#8a8a8a"/>
<rect x="575.75" y="777.2" width="0.90" height="55.0" fill="#8a8a8a"/>
<rect x="616.55" y="777.2" width="0.90" height="55.0" fill="#8a8a8a"/>
<rect x="407.0" y="790.8" width="22.6" height="31.0" fill="none" stroke="#8a8a8a" stroke-width="0.9"/>
<rect x="410.35" y="790.8" width="0.90" height="31.0" fill="#6a6a6a"/>
<rect x="414.35" y="790.8" width="0.90" height="31.0" fill="#6a6a6a"/>
<rect x="418.45" y="790.8" width="0.90" height="31.0" fill="#6a6a6a"/>
<rect x="422.55" y="790.8" width="0.90" height="31.0" fill="#6a6a6a"/>
<rect x="426.55" y="790.8" width="0.90" height="31.0" fill="#6a6a6a"/>
<rect x="434.5" y="790.8" width="70.0" height="31.0" fill="none" stroke="#8a8a8a" stroke-width="0.9"/>
<rect x="436.55" y="790.8" width="0.90" height="31.0" fill="#6a6a6a"/>
<rect x="446.25" y="790.8" width="0.90" height="31.0" fill="#6a6a6a"/>
<rect x="457.65" y="790.8" width="0.90" height="31.0" fill="#6a6a6a"/>
<rect x="469.05" y="790.8" width="0.90" height="31.0" fill="#6a6a6a"/>
<rect x="481.25" y="790.8" width="0.90" height="31.0" fill="#6a6a6a"/>
<rect x="494.25" y="790.8" width="0.90" height="31.0" fill="#6a6a6a"/>
<rect x="503.25" y="790.8" width="0.90" height="31.0" fill="#6a6a6a"/>
<rect x="520.0" y="790.8" width="52.0" height="31.0" fill="none" stroke="#8a8a8a" stroke-width="0.9"/>
<rect x="523.55" y="790.8" width="0.90" height="31.0" fill="#6a6a6a"/>
<rect x="539.25" y="790.8" width="0.90" height="31.0" fill="#6a6a6a"/>
<rect x="556.35" y="790.8" width="0.90" height="31.0" fill="#6a6a6a"/>
<rect x="576.2" y="790.8" width="40.8" height="31.0" fill="none" stroke="#8a8a8a" stroke-width="0.9"/>
<rect x="591.15" y="790.8" width="0.90" height="31.0" fill="#6a6a6a"/>
<rect x="605.05" y="790.8" width="0.90" height="31.0" fill="#6a6a6a"/>
<rect x="400.2" y="657.3" width="224.6" height="4.3" fill="#000" />
<rect x="400.2" y="715.0" width="224.6" height="4.4" fill="#000" />
<rect x="400.2" y="772.7" width="224.6" height="4.5" fill="#000" />
<rect x="400.2" y="832.2" width="223.0" height="4.3" fill="#000" />
<rect x="402.5" y="661.0" width="4.3" height="16.0" fill="#000" />
<rect x="402.5" y="701.0" width="4.3" height="14.2" fill="#000" />
<rect x="402.5" y="719.0" width="4.3" height="15.7" fill="#000" />
<rect x="402.5" y="758.0" width="4.3" height="15.0" fill="#000" />
<rect x="402.5" y="777.0" width="4.3" height="14.6" fill="#000" />
<rect x="402.5" y="821.0" width="4.3" height="11.5" fill="#000" />
<rect x="403.3" y="677.0" width="3.2" height="24.0" fill="#c9c9c9" />
<rect x="402.95" y="677.0" width="0.70" height="24.0" fill="#777"/>
<rect x="406.25" y="677.0" width="0.70" height="24.0" fill="#777"/>
<rect x="403.3" y="734.7" width="3.2" height="23.3" fill="#c9c9c9" />
<rect x="402.95" y="734.7" width="0.70" height="23.3" fill="#777"/>
<rect x="406.25" y="734.7" width="0.70" height="23.3" fill="#777"/>
<rect x="403.3" y="791.6" width="3.2" height="29.4" fill="#c9c9c9" />
<rect x="402.95" y="791.6" width="0.70" height="29.4" fill="#777"/>
<rect x="406.25" y="791.6" width="0.70" height="29.4" fill="#777"/>
<rect x="616.7" y="661.0" width="4.4" height="15.8" fill="#000" />
<rect x="616.7" y="695.6" width="4.4" height="19.6" fill="#000" />
<rect x="621.20" y="661.0" width="0.80" height="54.0" fill="#777"/>
<rect x="585.9" y="719.0" width="4.8" height="15.7" fill="#000" />
<rect x="585.9" y="758.0" width="4.8" height="15.0" fill="#000" />
<rect x="586.8" y="734.7" width="3.0" height="23.3" fill="#d5d5d5" />
<rect x="586.45" y="734.7" width="0.70" height="23.3" fill="#888"/>
<rect x="589.45" y="734.7" width="0.70" height="23.3" fill="#888"/>
</g>
<g id="rightb">
<rect x="1019.0" y="607.0" width="182.5" height="50.3" fill="#fff" />
<rect x="1188.0" y="657.0" width="13.5" height="42.5" fill="#fff" />
<rect x="1020.2" y="607" width="5.4" height="50.3" fill="#fff" stroke="#3a3a3a" stroke-width="0.9"/>
<rect x="1029.8" y="607" width="4.8" height="50.3" fill="#fff" stroke="#3a3a3a" stroke-width="0.9"/>
<rect x="1038.4" y="607" width="4.9" height="50.3" fill="#fff" stroke="#3a3a3a" stroke-width="0.9"/>
<rect x="1037.70" y="607.0" width="1.80" height="50.3" fill="#111"/>
<rect x="1047.2" y="607" width="5.2" height="50.3" fill="#fff" stroke="#3a3a3a" stroke-width="0.9"/>
<rect x="1056.4" y="607" width="5.4" height="50.3" fill="#fff" stroke="#3a3a3a" stroke-width="0.9"/>
<rect x="1066.2" y="607" width="5.4" height="50.3" fill="#fff" stroke="#3a3a3a" stroke-width="0.9"/>
<rect x="1076.4" y="607" width="5.4" height="50.3" fill="#fff" stroke="#3a3a3a" stroke-width="0.9"/>
<rect x="1086.8" y="607" width="5.4" height="50.3" fill="#fff" stroke="#3a3a3a" stroke-width="0.9"/>
<rect x="1097.4" y="607" width="5.4" height="50.3" fill="#fff" stroke="#3a3a3a" stroke-width="0.9"/>
<rect x="1096.70" y="607.0" width="1.80" height="50.3" fill="#111"/>
<rect x="1107.9" y="607" width="5.4" height="50.3" fill="#fff" stroke="#3a3a3a" stroke-width="0.9"/>
<rect x="1117.9" y="607" width="5.0" height="50.3" fill="#fff" stroke="#3a3a3a" stroke-width="0.9"/>
<rect x="1117.20" y="607.0" width="1.80" height="50.3" fill="#111"/>
<rect x="1126.9" y="607" width="4.7" height="50.3" fill="#fff" stroke="#3a3a3a" stroke-width="0.9"/>
<rect x="1135.3" y="607" width="4.6" height="50.3" fill="#fff" stroke="#3a3a3a" stroke-width="0.9"/>
<rect x="1143.5" y="607" width="4.8" height="50.3" fill="#fff" stroke="#3a3a3a" stroke-width="0.9"/>
<rect x="1142.80" y="607.0" width="1.80" height="50.3" fill="#111"/>
<rect x="1152.1" y="607" width="4.8" height="50.3" fill="#fff" stroke="#3a3a3a" stroke-width="0.9"/>
<rect x="1160.7" y="607" width="4.6" height="50.3" fill="#fff" stroke="#3a3a3a" stroke-width="0.9"/>
<rect x="1168.9" y="607" width="4.5" height="50.3" fill="#fff" stroke="#3a3a3a" stroke-width="0.9"/>
<rect x="1168.20" y="607.0" width="1.80" height="50.3" fill="#111"/>
<rect x="1176.9" y="607" width="4.1" height="50.3" fill="#fff" stroke="#3a3a3a" stroke-width="0.9"/>
<rect x="1184.3" y="607" width="3.7" height="50.3" fill="#fff" stroke="#3a3a3a" stroke-width="0.9"/>
<rect x="1190.9" y="607" width="3.4" height="92.5" fill="#fff" stroke="#3a3a3a" stroke-width="0.9"/>
<rect x="1196.9" y="607" width="3.0" height="92.5" fill="#fff" stroke="#3a3a3a" stroke-width="0.9"/>
<rect x="1019.0" y="606.50" width="182.5" height="1.00" fill="#3a3a3a"/>
<rect x="1200.70" y="607.0" width="1.00" height="92.5" fill="#3a3a3a"/>
<rect x="1042.0" y="610.15" width="118.0" height="0.70" fill="#bbb"/>
<rect x="1042.0" y="612.15" width="118.0" height="0.70" fill="#bbb"/>
<rect x="950.0" y="642.6" width="69.0" height="14.7" fill="#fff" />
<rect x="950.0" y="642.20" width="69.0" height="0.80" fill="#999"/>
<rect x="955.6" y="642.8" width="40.4" height="14.5" fill="#fff" stroke="#333" stroke-width="1.2"/>
<rect x="955.6" y="644.50" width="40.4" height="1.00" fill="#777"/>
<rect x="995.90" y="642.8" width="1.80" height="14.5" fill="#333"/>
<rect x="954.30" y="642.8" width="1.40" height="14.5" fill="#333"/>
<rect x="996.8" y="643.5" width="22.2" height="13.8" fill="#fff" stroke="#999" stroke-width="0.8"/>
<rect x="1056.5" y="642.8" width="68.9" height="14.8" fill="#fff" stroke="#555" stroke-width="0.9"/>
<rect x="1126.0" y="643.0" width="48.0" height="14.3" fill="#fff" stroke="#444" stroke-width="1.1"/>
<rect x="1126.0" y="644.90" width="48.0" height="1.00" fill="#666"/>
<rect x="1126.0" y="646.80" width="48.0" height="0.80" fill="#999"/>
<rect x="1174.0" y="642.8" width="14.0" height="190.0" fill="#fff" />
<rect x="1173.95" y="642.8" width="0.90" height="129.7" fill="#666"/>
<rect x="1177.15" y="642.8" width="0.90" height="129.7" fill="#666"/>
<rect x="1180.55" y="642.8" width="0.90" height="129.7" fill="#666"/>
<rect x="1183.95" y="642.8" width="0.90" height="129.7" fill="#666"/>
<rect x="1187.55" y="642.8" width="0.90" height="129.7" fill="#666"/>
<rect x="1174.0" y="642.35" width="14.0" height="0.90" fill="#555"/>
<rect x="959.0" y="661.6" width="213.7" height="171.0" fill="#fff" />
<rect x="950.0" y="719.4" width="40.0" height="53.3" fill="#fff" />
<rect x="950.0" y="777.2" width="10.0" height="55.0" fill="#fff" />
<rect x="1045.20" y="661.6" width="2.20" height="53.4" fill="#3c3c3c"/>
<rect x="1078.70" y="661.6" width="2.20" height="53.4" fill="#3c3c3c"/>
<rect x="1073.45" y="661.6" width="0.90" height="53.4" fill="#8a8a8a"/>
<rect x="959.6" y="681.3" width="7.1" height="33.7" fill="none" stroke="#8a8a8a" stroke-width="0.9"/>
<rect x="1012.6" y="681.3" width="7.8" height="33.7" fill="none" stroke="#8a8a8a" stroke-width="0.9"/>
<rect x="1059.0" y="681.3" width="5.4" height="33.7" fill="none" stroke="#8a8a8a" stroke-width="0.9"/>
<rect x="1065.6" y="681.3" width="5.0" height="33.7" fill="none" stroke="#8a8a8a" stroke-width="0.9"/>
<rect x="950.55" y="719.4" width="0.90" height="53.3" fill="#4a4a4a"/>
<rect x="953.35" y="719.4" width="0.90" height="53.3" fill="#4a4a4a"/>
<rect x="957.95" y="719.4" width="0.90" height="53.3" fill="#4a4a4a"/>
<rect x="963.55" y="719.4" width="0.90" height="53.3" fill="#4a4a4a"/>
<rect x="971.75" y="719.4" width="0.90" height="53.3" fill="#4a4a4a"/>
<rect x="976.35" y="719.4" width="0.90" height="53.3" fill="#4a4a4a"/>
<rect x="980.95" y="719.4" width="0.90" height="53.3" fill="#4a4a4a"/>
<rect x="984.55" y="719.4" width="0.90" height="53.3" fill="#4a4a4a"/>
<rect x="1025.95" y="719.4" width="0.90" height="53.3" fill="#8a8a8a"/>
<rect x="1038.85" y="719.4" width="0.90" height="53.3" fill="#8a8a8a"/>
<rect x="1043.45" y="719.4" width="0.90" height="53.3" fill="#8a8a8a"/>
<rect x="1073.45" y="719.4" width="0.90" height="53.3" fill="#8a8a8a"/>
<rect x="1078.35" y="719.4" width="0.90" height="53.3" fill="#8a8a8a"/>
<rect x="1134.55" y="719.4" width="0.90" height="53.3" fill="#8a8a8a"/>
<rect x="1164.55" y="719.4" width="0.90" height="53.3" fill="#8a8a8a"/>
<rect x="952.45" y="777.2" width="0.90" height="55.0" fill="#666"/>
<rect x="1157.55" y="777.2" width="0.90" height="55.0" fill="#b5b5b5"/>
<rect x="1163.85" y="777.2" width="0.90" height="55.0" fill="#b5b5b5"/>
<rect x="1024.6" y="798.7" width="48.7" height="33.5" fill="none" stroke="#cfcfcf" stroke-width="1.2"/>
<rect x="1027.5" y="801.5" width="8.0" height="30.7" fill="none" stroke="#cfcfcf" stroke-width="1.0"/>
<rect x="1038.0" y="801.5" width="8.5" height="30.7" fill="none" stroke="#cfcfcf" stroke-width="1.0"/>
<rect x="1051.5" y="801.5" width="8.0" height="30.7" fill="none" stroke="#cfcfcf" stroke-width="1.0"/>
<rect x="1062.0" y="801.5" width="8.5" height="30.7" fill="none" stroke="#cfcfcf" stroke-width="1.0"/>
<rect x="1048.40" y="798.7" width="1.20" height="33.5" fill="#cfcfcf"/>
<rect x="950.0" y="657.3" width="231.0" height="4.3" fill="#000" />
<rect x="950.0" y="715.0" width="231.0" height="4.4" fill="#000" />
<rect x="950.0" y="772.7" width="312.0" height="4.5" fill="#000" />
<rect x="950.0" y="832.2" width="288.0" height="4.3" fill="#000" />
<rect x="954.7" y="661.0" width="4.4" height="15.6" fill="#000" />
<rect x="954.7" y="694.8" width="4.4" height="20.4" fill="#000" />
<rect x="955.4" y="676.6" width="3.0" height="18.2" fill="#d0d0d0" />
<rect x="955.05" y="676.6" width="0.70" height="18.2" fill="#888"/>
<rect x="958.25" y="676.6" width="0.70" height="18.2" fill="#888"/>
<rect x="952.80" y="661.0" width="0.80" height="54.0" fill="#999"/>
<rect x="990.0" y="719.0" width="4.7" height="15.4" fill="#000" />
<rect x="990.0" y="758.3" width="4.7" height="14.7" fill="#000" />
<rect x="990.8" y="734.4" width="3.0" height="23.9" fill="#d0d0d0" />
<rect x="990.45" y="734.4" width="0.70" height="23.9" fill="#888"/>
<rect x="993.55" y="734.4" width="0.70" height="23.9" fill="#888"/>
<rect x="1172.7" y="661.0" width="4.4" height="16.2" fill="#000" />
<rect x="1172.7" y="700.8" width="4.4" height="90.2" fill="#000" />
<rect x="1173.4" y="677.2" width="3.0" height="23.6" fill="#cfcfcf" />
<rect x="1173.05" y="677.2" width="0.70" height="23.6" fill="#777"/>
<rect x="1176.25" y="677.2" width="0.70" height="23.6" fill="#777"/>
<rect x="1167.8" y="734.0" width="7.4" height="24.6" fill="#e8e8e8" stroke="#333" stroke-width="1.0"/>
<rect x="1169.75" y="734.0" width="0.90" height="24.6" fill="#333"/>
<rect x="1173.2" y="791.0" width="3.6" height="41.5" fill="#d5d5d5" />
<rect x="1172.80" y="791.0" width="0.80" height="41.2" fill="#777"/>
<rect x="1176.40" y="791.0" width="0.80" height="41.2" fill="#777"/>
<rect x="1167.6" y="791.0" width="29.8" height="29.7" fill="none" stroke="#8a8a8a" stroke-width="0.9"/>
<rect x="1186.75" y="791.0" width="0.90" height="29.7" fill="#8a8a8a"/>
</g>
<clipPath id="cpS"><rect x="1120" y="600" width="60" height="43"/></clipPath><g clip-path="url(#cpS)">
<g filter="url(#fol2)" fill="#94ab86"><path d="M1129.0 646.0 C1129.2 644.8 1128.6 641.6 1130.0 639.0 C1131.4 636.4 1134.9 632.9 1137.3 630.2 C1139.8 627.5 1142.7 624.5 1144.7 623.0 C1146.7 621.5 1147.3 620.0 1149.3 621.0 C1151.4 622.0 1154.1 626.0 1156.8 629.0 C1159.4 632.0 1163.5 636.2 1165.0 639.0 C1166.5 641.8 1172.0 644.8 1166.0 646.0 C1160.0 647.2 1135.2 646.0 1129.0 646.0 Z"/></g>
</g>
<g id="annex">
<rect x="1188.0" y="699.4" width="161.5" height="135.6" fill="#fff" />
<rect x="1345.0" y="699.4" width="4.5" height="135.6" fill="#c4c4c4" />
<rect x="1188.0" y="698.90" width="161.5" height="1.00" fill="#444"/>
<rect x="1188.05" y="699.4" width="0.90" height="135.6" fill="#666"/>
<rect x="1194.35" y="699.4" width="0.90" height="135.6" fill="#666"/>
<rect x="1197.75" y="699.4" width="0.90" height="135.6" fill="#666"/>
<rect x="1206.05" y="699.4" width="0.90" height="135.6" fill="#444"/>
<rect x="1207.95" y="699.4" width="0.90" height="135.6" fill="#666"/>
<rect x="1206.5" y="699.4" width="1.9" height="135.6" fill="#bbb" opacity="0.5"/>
<rect x="1216.55" y="699.4" width="0.90" height="135.6" fill="#444"/>
<rect x="1218.25" y="699.4" width="0.90" height="135.6" fill="#666"/>
<rect x="1217.0" y="699.4" width="1.7" height="135.6" fill="#bbb" opacity="0.5"/>
<rect x="1226.55" y="699.4" width="0.90" height="135.6" fill="#444"/>
<rect x="1228.25" y="699.4" width="0.90" height="135.6" fill="#666"/>
<rect x="1227.0" y="699.4" width="1.7" height="135.6" fill="#bbb" opacity="0.5"/>
<rect x="1236.95" y="699.4" width="0.90" height="135.6" fill="#444"/>
<rect x="1238.55" y="699.4" width="0.90" height="135.6" fill="#666"/>
<rect x="1237.4" y="699.4" width="1.6" height="135.6" fill="#bbb" opacity="0.5"/>
<rect x="1247.15" y="699.4" width="0.90" height="135.6" fill="#444"/>
<rect x="1248.85" y="699.4" width="0.90" height="135.6" fill="#666"/>
<rect x="1247.6" y="699.4" width="1.7" height="135.6" fill="#bbb" opacity="0.5"/>
<rect x="1257.85" y="699.4" width="0.90" height="135.6" fill="#444"/>
<rect x="1259.45" y="699.4" width="0.90" height="135.6" fill="#666"/>
<rect x="1258.3" y="699.4" width="1.6" height="135.6" fill="#bbb" opacity="0.5"/>
<rect x="1265.75" y="699.4" width="0.90" height="135.6" fill="#444"/>
<rect x="1274.25" y="699.4" width="0.90" height="135.6" fill="#444"/>
<rect x="1281.95" y="699.4" width="0.90" height="135.6" fill="#444"/>
<rect x="1289.55" y="699.4" width="0.90" height="135.6" fill="#444"/>
<rect x="1297.25" y="699.4" width="0.90" height="135.6" fill="#444"/>
<rect x="1304.85" y="699.4" width="0.90" height="135.6" fill="#444"/>
<rect x="1311.65" y="699.4" width="0.90" height="135.6" fill="#444"/>
<rect x="1317.55" y="699.4" width="0.90" height="135.6" fill="#444"/>
<rect x="1323.55" y="699.4" width="0.90" height="135.6" fill="#444"/>
<rect x="1328.65" y="699.4" width="0.90" height="135.6" fill="#444"/>
<rect x="1332.95" y="699.4" width="0.90" height="135.6" fill="#444"/>
<rect x="1337.15" y="699.4" width="0.90" height="135.6" fill="#444"/>
<rect x="1340.55" y="699.4" width="0.90" height="135.6" fill="#444"/>
<rect x="1343.55" y="699.4" width="0.90" height="135.6" fill="#444"/>
<rect x="1346.55" y="699.4" width="0.90" height="135.6" fill="#444"/>
<rect x="1348.85" y="699.4" width="0.90" height="135.6" fill="#444"/>
<rect x="1200.4" y="715.60" width="3.2" height="0.80" fill="#777"/>
<rect x="1200.4" y="718.20" width="3.2" height="0.80" fill="#777"/>
<rect x="1211.0" y="715.60" width="3.2" height="0.80" fill="#777"/>
<rect x="1211.0" y="718.20" width="3.2" height="0.80" fill="#777"/>
<rect x="1221.2" y="715.60" width="3.2" height="0.80" fill="#777"/>
<rect x="1221.2" y="718.20" width="3.2" height="0.80" fill="#777"/>
<rect x="1231.4" y="715.60" width="3.2" height="0.80" fill="#777"/>
<rect x="1231.4" y="718.20" width="3.2" height="0.80" fill="#777"/>
<rect x="1241.6" y="715.60" width="3.2" height="0.80" fill="#777"/>
<rect x="1241.6" y="718.20" width="3.2" height="0.80" fill="#777"/>
<rect x="1252.0" y="715.60" width="3.2" height="0.80" fill="#777"/>
<rect x="1252.0" y="718.20" width="3.2" height="0.80" fill="#777"/>
<rect x="1206.7" y="757.2" width="53.6" height="15.4" fill="#fff" stroke="#555" stroke-width="0.9"/>
<rect x="1177.0" y="772.7" width="85.0" height="4.5" fill="#000" />
<rect x="1177.0" y="832.2" width="61.0" height="4.3" fill="#000" />
</g>
<rect x="1234.3" y="832.2" width="4.0" height="25.6" fill="#000" />
<rect x="1234.3" y="853.8" width="105.7" height="4.0" fill="#000" />
<rect x="1336.0" y="835.0" width="4.0" height="22.8" fill="#000" />
<rect x="1238.3" y="835.9" width="97.7" height="17.9" fill="#1a97f8" />
<rect x="1490.5" y="835.0" width="4.0" height="22.6" fill="#000" />
<rect x="1490.5" y="853.6" width="302.2" height="4.0" fill="#000" />
<rect x="1788.7" y="835.0" width="4.0" height="22.6" fill="#000" />
<rect x="1494.5" y="836.0" width="294.2" height="17.6" fill="#1a97f8" />
<g id="ribbons" style="mix-blend-mode:multiply" opacity="0.97">
<path d="M315.5 697.0 C322.8 695.7 345.2 691.2 359.0 689.3 C372.8 687.4 387.2 686.3 398.0 685.4 C408.8 684.5 415.3 684.2 424.0 684.0 C432.7 683.8 443.1 684.2 450.0 684.4 C456.9 684.5 458.7 684.0 465.5 684.9 C472.3 685.8 482.5 687.9 491.0 689.6 C499.5 691.3 507.9 693.8 516.4 695.0 C524.9 696.2 533.3 696.9 541.8 697.0 C550.3 697.1 558.8 696.6 567.3 695.9 C575.8 695.1 583.9 694.5 592.7 692.5 C601.5 690.5 613.1 686.2 620.0 683.8 C626.9 681.4 629.3 681.0 634.0 678.2 C638.7 675.4 643.6 671.6 648.3 666.9 C653.0 662.2 658.9 654.5 662.4 650.0 C665.9 645.5 667.2 643.3 669.5 640.0 C671.8 636.7 674.3 632.4 676.0 630.0 C677.7 627.6 678.9 626.2 679.5 625.5 L685.5 628.0 C684.9 628.8 683.5 630.5 682.0 633.0 C680.5 635.5 679.9 638.1 676.6 642.8 C673.3 647.5 667.1 655.9 662.4 661.2 C657.7 666.5 653.0 670.9 648.3 674.7 C643.6 678.5 638.7 681.4 634.0 683.8 C629.3 686.1 626.9 686.4 620.0 688.8 C613.1 691.2 601.5 696.0 592.7 698.0 C583.9 700.0 575.8 700.0 567.3 700.5 C558.8 701.0 550.3 701.2 541.8 701.0 C533.3 700.8 524.9 700.1 516.4 699.3 C507.9 698.4 499.5 697.0 491.0 695.9 C482.5 694.8 472.3 693.3 465.5 692.5 C458.7 691.7 456.9 692.0 450.0 691.2 C443.1 690.5 431.6 688.6 424.0 688.0 C416.4 687.4 411.0 686.8 404.5 687.3 C398.0 687.8 392.6 689.5 385.0 691.2 C377.4 692.9 367.7 695.5 359.0 697.7 C350.3 699.9 342.5 701.6 333.0 704.2 C323.5 706.8 307.0 711.8 301.8 713.3 Z" fill="url(#gL)"/>
<polygon points="689.6,611.2 671.2,621.4 692.0,632.4" fill="#0b80e6"/>
<path d="M268.0 740.6 C274.5 739.7 294.0 736.6 307.0 735.4 C320.0 734.2 333.0 733.7 346.0 733.5 C359.0 733.3 375.5 734.1 385.0 734.4 C394.5 734.7 396.5 735.0 403.0 735.4 C409.5 735.8 417.0 736.2 424.0 736.7 C431.0 737.2 438.1 737.7 445.0 738.3 C451.9 738.9 457.8 739.4 465.5 740.5 C473.2 741.6 482.5 743.5 491.0 745.0 C499.5 746.5 507.9 748.2 516.4 749.4 C524.9 750.5 533.3 751.3 541.8 751.9 C550.3 752.5 558.8 753.0 567.3 752.7 C575.8 752.4 583.9 752.2 592.7 750.2 C601.5 748.2 613.1 743.3 620.0 741.0 C626.9 738.7 629.3 738.2 634.0 736.2 C638.7 734.2 643.6 731.8 648.3 729.0 C653.0 726.2 657.7 723.2 662.4 719.2 C667.1 715.2 671.9 710.6 676.6 705.0 C681.3 699.4 686.0 693.1 690.7 685.3 C695.4 677.5 701.0 666.8 704.9 658.4 C708.8 650.0 711.3 643.0 714.3 635.2 C717.3 627.4 720.7 617.4 722.8 611.5 C724.9 605.6 726.3 601.6 727.0 599.6 L731.5 603.0 C730.6 605.8 728.5 612.9 726.2 620.0 C723.9 627.1 721.2 636.2 717.7 645.4 C714.2 654.6 709.4 666.4 704.9 675.4 C700.4 684.4 695.4 692.6 690.7 699.4 C686.0 706.2 681.3 711.5 676.6 716.4 C671.9 721.3 667.1 725.5 662.4 729.0 C657.7 732.5 653.0 735.1 648.3 737.6 C643.6 740.1 638.7 742.2 634.0 744.0 C629.3 745.8 626.9 746.6 620.0 748.2 C613.1 749.8 601.5 752.3 592.7 753.6 C583.9 754.9 575.8 755.2 567.3 755.8 C558.8 756.4 550.3 757.0 541.8 757.0 C533.3 757.0 524.9 756.6 516.4 756.0 C507.9 755.4 499.5 754.7 491.0 753.6 C482.5 752.5 473.2 751.1 465.5 749.4 C457.8 747.7 451.9 745.2 445.0 743.5 C438.1 741.8 431.8 740.4 424.0 739.3 C416.2 738.1 408.8 736.8 398.0 736.6 C387.2 736.4 372.0 736.9 359.0 738.0 C346.0 739.1 331.9 741.0 320.0 743.2 C308.1 745.4 298.3 748.9 287.5 751.0 C276.7 753.1 260.4 755.2 255.0 756.0 Z" fill="url(#gL)"/>
<polygon points="733.0,584.3 716.9,598.7 740.6,604.9" fill="#0b80e6"/>
<path d="M216.0 795.2 C222.5 794.0 242.0 790.0 255.0 788.0 C268.0 786.0 283.2 784.4 294.0 783.5 C304.8 782.6 311.3 782.7 320.0 782.9 C328.7 783.1 337.3 783.8 346.0 784.8 C354.7 785.8 362.5 787.4 372.0 788.7 C381.5 790.0 394.3 791.6 403.0 792.6 C411.7 793.6 417.0 793.8 424.0 794.6 C431.0 795.4 438.1 796.1 445.0 797.3 C451.9 798.5 457.8 800.2 465.5 802.0 C473.2 803.8 482.5 806.5 491.0 808.0 C499.5 809.5 507.9 810.5 516.4 811.3 C524.9 812.1 533.3 812.9 541.8 813.0 C550.3 813.1 558.8 813.0 567.3 812.2 C575.8 811.4 583.9 810.1 592.7 808.0 C601.5 805.9 613.1 802.2 620.0 799.8 C626.9 797.4 629.3 795.9 634.0 793.5 C638.7 791.1 643.6 788.7 648.3 785.7 C653.0 782.8 657.7 779.6 662.4 775.8 C667.1 772.0 671.9 767.7 676.6 763.0 C681.3 758.3 686.0 753.4 690.7 747.5 C695.4 741.6 700.2 735.2 704.9 727.7 C709.6 720.2 714.3 711.4 719.0 702.2 C723.7 693.0 728.8 682.9 733.0 672.5 C737.2 662.1 741.4 649.2 744.5 640.0 C747.6 630.8 749.0 624.7 751.6 617.0 C754.2 609.3 757.9 600.0 760.0 594.0 C762.1 588.0 763.7 583.2 764.4 581.0 L770.3 582.6 C769.6 585.5 768.0 593.1 766.0 600.0 C764.0 606.9 761.5 615.0 758.4 624.0 C755.3 633.0 751.5 643.1 747.3 654.0 C743.1 664.9 737.7 678.6 733.0 689.5 C728.3 700.4 723.7 710.2 719.0 719.2 C714.3 728.2 709.6 736.3 704.9 743.3 C700.2 750.3 695.4 755.8 690.7 761.0 C686.0 766.2 681.3 770.3 676.6 774.4 C671.9 778.5 667.1 782.4 662.4 785.7 C657.7 789.0 653.0 791.7 648.3 794.2 C643.6 796.7 638.7 798.6 634.0 800.5 C629.3 802.4 626.9 803.7 620.0 805.5 C613.1 807.3 601.5 809.6 592.7 811.3 C583.9 813.0 575.8 814.4 567.3 815.5 C558.8 816.6 550.3 817.4 541.8 818.0 C533.3 818.6 524.9 819.1 516.4 819.0 C507.9 818.9 499.5 818.2 491.0 817.2 C482.5 816.2 473.2 814.5 465.5 813.0 C457.8 811.5 451.9 809.9 445.0 808.0 C438.1 806.1 431.0 803.6 424.0 801.7 C417.0 799.8 409.5 797.8 403.0 796.5 C396.5 795.2 392.3 794.8 385.0 793.9 C377.7 793.0 369.8 791.5 359.0 791.3 C348.2 791.1 333.0 791.7 320.0 792.6 C307.0 793.5 294.0 794.8 281.0 796.5 C268.0 798.2 255.1 800.7 242.0 803.0 C228.9 805.3 209.0 809.0 202.4 810.2 Z" fill="url(#gL)"/>
<polygon points="771.7,564.0 756.0,579.2 780.6,583.6" fill="#0b80e6"/>
<path d="M909.4 640.0 C911.0 642.9 915.2 651.8 918.9 657.3 C922.5 662.8 926.6 668.2 931.3 672.9 C936.0 677.6 941.2 681.7 946.9 685.3 C952.6 688.9 958.6 691.8 965.6 694.7 C972.6 697.6 981.1 700.5 988.9 702.5 C996.7 704.5 1004.5 705.9 1012.3 706.4 C1020.1 706.9 1027.8 706.2 1035.6 705.6 C1043.4 705.0 1051.1 703.7 1058.9 702.5 C1066.7 701.3 1074.5 700.0 1082.3 698.6 C1090.1 697.2 1097.8 695.5 1105.6 693.9 C1113.4 692.3 1122.3 690.3 1129.0 689.2 C1135.7 688.1 1138.5 688.1 1145.5 687.2 C1152.5 686.3 1162.5 684.8 1171.0 684.0 C1179.5 683.2 1188.0 682.6 1196.5 682.6 C1205.0 682.6 1213.5 683.2 1222.0 683.8 C1230.5 684.4 1237.9 685.3 1247.5 686.4 C1257.1 687.5 1274.4 689.9 1279.8 690.6 L1268.8 696.2 C1265.2 695.4 1255.3 693.0 1247.5 691.5 C1239.7 690.0 1230.5 688.2 1222.0 687.2 C1213.5 686.2 1205.0 685.3 1196.5 685.2 C1188.0 685.1 1179.5 685.5 1171.0 686.4 C1162.5 687.3 1153.8 689.1 1145.5 690.6 C1137.2 692.1 1129.0 693.9 1121.0 695.5 C1113.0 697.1 1105.5 698.5 1097.8 700.0 C1090.0 701.5 1082.3 703.3 1074.5 704.8 C1066.7 706.2 1058.8 707.8 1051.0 708.7 C1043.2 709.6 1035.5 710.1 1027.8 710.2 C1020.0 710.3 1012.3 710.0 1004.5 709.5 C996.7 709.0 988.8 708.4 981.0 707.0 C973.2 705.6 964.8 703.6 957.8 701.0 C950.8 698.4 944.7 695.5 939.0 691.6 C933.3 687.7 928.3 682.8 923.6 677.6 C918.9 672.4 914.5 666.4 911.0 660.5 C907.5 654.6 904.2 645.1 902.8 642.0 Z" fill="url(#gR1)"/>
<polygon points="899.4,624.8 892.4,644.8 916.0,638.5" fill="#0b80e6"/>
<path d="M866.2 622.5 C867.8 626.6 872.0 638.9 875.5 647.0 C879.0 655.1 884.0 665.0 887.4 670.9 C890.8 676.8 891.7 676.6 895.6 682.2 C899.5 687.9 905.8 698.0 911.0 704.8 C916.2 711.5 921.5 717.5 926.7 722.7 C931.9 727.9 937.0 732.1 942.2 736.0 C947.4 739.9 952.6 743.2 957.8 746.0 C963.0 748.8 966.9 750.8 973.4 753.0 C979.9 755.2 988.9 757.7 996.7 759.3 C1004.5 760.9 1012.2 761.9 1020.0 762.4 C1027.8 762.9 1035.6 762.8 1043.4 762.4 C1051.2 762.0 1058.9 761.1 1066.7 760.0 C1074.5 758.9 1082.2 757.4 1090.0 756.0 C1097.8 754.6 1104.2 753.2 1113.4 751.5 C1122.7 749.8 1135.9 748.0 1145.5 745.9 C1155.1 743.8 1162.5 741.3 1171.0 739.0 C1179.5 736.7 1188.0 734.4 1196.5 732.3 C1205.0 730.2 1213.5 728.3 1222.0 726.3 C1230.5 724.3 1239.0 722.2 1247.5 720.4 C1256.0 718.6 1264.5 716.8 1273.0 715.3 C1281.5 713.8 1290.0 712.3 1298.5 711.3 C1307.0 710.3 1315.5 709.8 1324.0 709.3 C1332.5 708.8 1341.0 708.6 1349.5 708.5 C1358.0 708.4 1365.1 708.4 1375.0 708.5 C1384.9 708.6 1397.7 708.8 1409.0 709.3 C1420.3 709.8 1437.3 711.0 1443.0 711.3 L1434.5 721.2 C1430.2 720.9 1418.9 720.0 1409.0 719.2 C1399.1 718.4 1384.9 717.0 1375.0 716.4 C1365.1 715.8 1358.0 715.5 1349.5 715.3 C1341.0 715.1 1332.5 715.0 1324.0 715.3 C1315.5 715.6 1307.0 716.1 1298.5 717.0 C1290.0 717.9 1281.5 719.0 1273.0 720.4 C1264.5 721.8 1256.0 723.8 1247.5 725.5 C1239.0 727.2 1230.5 728.6 1222.0 730.6 C1213.5 732.6 1205.0 735.0 1196.5 737.4 C1188.0 739.8 1179.5 742.5 1171.0 745.0 C1162.5 747.5 1155.1 750.5 1145.5 752.7 C1135.9 755.0 1122.7 756.9 1113.4 758.5 C1104.2 760.1 1097.8 761.4 1090.0 762.4 C1082.2 763.4 1074.5 764.1 1066.7 764.7 C1058.9 765.3 1051.2 765.9 1043.4 766.0 C1035.6 766.1 1027.8 766.0 1020.0 765.5 C1012.2 765.0 1004.5 764.2 996.7 763.0 C988.9 761.8 979.9 760.3 973.4 758.5 C966.9 756.7 963.0 754.8 957.8 752.3 C952.6 749.8 947.4 747.2 942.2 743.7 C937.0 740.2 931.9 736.0 926.7 731.2 C921.5 726.4 916.2 721.0 911.0 714.9 C905.8 708.8 900.7 701.5 895.6 694.7 C890.5 687.9 885.1 681.9 880.6 674.3 C876.1 666.6 872.2 657.0 868.8 648.8 C865.4 640.6 861.7 629.0 860.3 625.0 Z" fill="url(#gR2)"/>
<polygon points="857.7,606.4 851.8,626.0 875.6,619.0" fill="#0b80e6"/>
<path d="M831.4 562.2 C832.1 567.6 833.9 582.9 835.7 594.5 C837.6 606.1 840.1 620.5 842.5 631.8 C844.9 643.1 847.0 653.1 850.0 662.4 C853.0 671.7 856.3 679.3 860.3 687.8 C864.3 696.3 870.6 707.8 873.9 713.3 C877.2 718.8 876.4 716.0 880.0 721.0 C883.6 726.0 890.4 736.5 895.6 743.0 C900.8 749.5 905.8 754.8 911.0 760.0 C916.2 765.2 921.5 769.8 926.7 774.0 C931.9 778.2 937.0 781.8 942.2 785.0 C947.4 788.2 952.6 791.0 957.8 793.5 C963.0 796.0 966.9 797.6 973.4 799.7 C979.9 801.8 988.9 804.7 996.7 806.0 C1004.5 807.3 1012.2 807.2 1020.0 807.5 C1027.8 807.8 1035.6 807.6 1043.4 807.5 C1051.2 807.4 1058.9 807.0 1066.7 806.7 C1074.5 806.5 1082.2 806.2 1090.0 806.0 C1097.8 805.8 1104.2 805.5 1113.4 805.2 C1122.7 805.0 1135.9 804.8 1145.5 804.5 C1155.1 804.2 1162.5 804.1 1171.0 803.7 C1179.5 803.3 1188.0 802.7 1196.5 802.0 C1205.0 801.3 1213.5 800.4 1222.0 799.4 C1230.5 798.4 1239.0 797.3 1247.5 796.0 C1256.0 794.7 1264.5 793.3 1273.0 791.8 C1281.5 790.2 1290.0 788.4 1298.5 786.7 C1307.0 785.0 1315.5 783.2 1324.0 781.6 C1332.5 780.0 1341.0 778.7 1349.5 777.3 C1358.0 775.9 1365.1 774.8 1375.0 773.0 C1384.9 771.2 1399.1 768.3 1409.0 766.3 C1418.9 764.3 1426.0 762.9 1434.5 761.2 C1443.0 759.5 1450.8 758.7 1460.0 756.0 C1469.2 753.3 1476.7 748.9 1490.0 745.0 C1503.3 741.1 1523.3 736.5 1540.0 732.5 C1556.7 728.5 1573.3 724.3 1590.0 721.3 C1606.7 718.3 1623.3 716.2 1640.0 714.5 C1656.7 712.8 1673.3 711.8 1690.0 711.3 C1706.7 710.8 1723.3 710.7 1740.0 711.3 C1756.7 711.9 1773.3 712.9 1790.0 715.0 C1806.7 717.1 1825.4 720.7 1840.0 723.8 C1854.6 726.9 1866.2 730.7 1877.5 733.8 C1888.8 736.9 1902.5 741.0 1907.5 742.5 L1887.5 755.0 C1883.8 753.8 1872.9 750.0 1865.0 747.5 C1857.1 745.0 1852.5 743.1 1840.0 740.0 C1827.5 736.9 1806.7 732.0 1790.0 728.8 C1773.3 725.5 1756.7 722.3 1740.0 720.5 C1723.3 718.7 1706.7 718.2 1690.0 718.0 C1673.3 717.8 1656.7 718.2 1640.0 719.5 C1623.3 720.8 1606.7 722.7 1590.0 725.5 C1573.3 728.3 1556.7 732.3 1540.0 736.3 C1523.3 740.3 1503.3 745.8 1490.0 749.5 C1476.7 753.2 1469.2 755.8 1460.0 758.3 C1450.8 760.8 1443.0 762.4 1434.5 764.6 C1426.0 766.8 1418.9 768.9 1409.0 771.4 C1399.1 773.9 1384.9 777.6 1375.0 779.9 C1365.1 782.2 1358.0 783.5 1349.5 785.0 C1341.0 786.5 1332.5 787.8 1324.0 789.2 C1315.5 790.6 1307.0 792.2 1298.5 793.5 C1290.0 794.8 1281.5 795.6 1273.0 796.9 C1264.5 798.1 1256.0 799.8 1247.5 801.0 C1239.0 802.2 1230.5 803.3 1222.0 804.2 C1213.5 805.1 1205.0 805.7 1196.5 806.5 C1188.0 807.3 1179.5 808.1 1171.0 808.8 C1162.5 809.5 1155.1 809.9 1145.5 810.5 C1135.9 811.1 1122.7 812.2 1113.4 812.6 C1104.2 813.0 1097.8 812.9 1090.0 813.0 C1082.2 813.1 1074.5 813.1 1066.7 813.0 C1058.9 812.9 1051.2 812.6 1043.4 812.2 C1035.6 811.8 1027.8 811.1 1020.0 810.6 C1012.2 810.1 1004.5 809.9 996.7 809.0 C988.9 808.1 979.9 806.6 973.4 805.2 C966.9 803.8 963.0 802.5 957.8 800.5 C952.6 798.5 947.4 796.4 942.2 793.5 C937.0 790.6 931.9 787.1 926.7 783.4 C921.5 779.6 916.2 775.7 911.0 771.0 C905.8 766.3 900.8 761.4 895.6 755.4 C890.4 749.4 884.5 742.0 880.0 735.0 C875.5 728.0 872.6 721.2 868.8 713.3 C864.9 705.4 860.6 696.3 856.9 687.8 C853.2 679.3 849.8 671.7 846.7 662.4 C843.6 653.1 841.0 643.1 838.2 631.8 C835.4 620.5 832.1 606.0 829.7 594.5 C827.3 583.0 824.8 568.2 823.8 563.0 Z" fill="url(#gR3)"/>
<polygon points="824.4,544.2 814.4,563.2 839.2,560.6" fill="#0b80e6"/>
</g>
<g id="steam">
<path d="M1589.2 825.8 C1589.1 825.3 1588.7 824.8 1588.4 823.0 C1588.1 821.3 1587.6 817.9 1587.2 815.2 C1586.8 812.5 1586.2 809.8 1586.0 807.0 C1585.8 804.3 1585.5 802.2 1586.0 798.9 C1586.5 795.5 1587.7 791.0 1589.2 787.0 C1590.7 783.1 1593.9 779.2 1595.2 775.2 C1596.5 771.2 1597.0 766.5 1597.2 763.0 C1597.4 759.4 1596.5 755.4 1596.4 753.8 L1598.8 753.8 C1599.0 755.4 1599.9 759.4 1599.8 763.0 C1599.7 766.5 1599.0 771.2 1598.0 775.2 C1597.0 779.2 1595.3 783.1 1594.0 787.0 C1592.7 791.0 1590.6 795.5 1590.0 798.9 C1589.4 802.2 1589.9 804.3 1590.4 807.0 C1590.9 809.8 1592.1 812.5 1593.2 815.2 C1594.3 817.9 1596.0 821.3 1596.8 823.0 C1597.6 824.8 1597.6 825.3 1597.8 825.8 Z" fill="url(#gS)"/>
<polygon points="1597.0,744.2 1591.9,754.1 1602.4,754.1" fill="url(#gS)"/>
<path d="M1628.2 825.8 C1628.1 825.3 1627.7 824.8 1627.4 823.0 C1627.1 821.3 1626.6 817.9 1626.2 815.2 C1625.8 812.5 1625.2 809.8 1625.0 807.0 C1624.8 804.3 1624.5 802.2 1625.0 798.9 C1625.5 795.5 1626.7 791.0 1628.2 787.0 C1629.7 783.1 1632.9 779.2 1634.2 775.2 C1635.5 771.2 1636.0 766.5 1636.2 763.0 C1636.4 759.4 1635.5 755.4 1635.4 753.8 L1637.8 753.8 C1638.0 755.4 1638.9 759.4 1638.8 763.0 C1638.7 766.5 1638.0 771.2 1637.0 775.2 C1636.0 779.2 1634.3 783.1 1633.0 787.0 C1631.7 791.0 1629.6 795.5 1629.0 798.9 C1628.4 802.2 1628.9 804.3 1629.4 807.0 C1629.9 809.8 1631.1 812.5 1632.2 815.2 C1633.3 817.9 1635.0 821.3 1635.8 823.0 C1636.6 824.8 1636.6 825.3 1636.8 825.8 Z" fill="url(#gS)"/>
<polygon points="1636.0,744.2 1630.9,754.1 1641.4,754.1" fill="url(#gS)"/>
<path d="M1662.7 825.8 C1662.6 825.3 1662.2 824.8 1661.9 823.0 C1661.6 821.3 1661.1 817.9 1660.7 815.2 C1660.3 812.5 1659.7 809.8 1659.5 807.0 C1659.3 804.3 1659.0 802.2 1659.5 798.9 C1660.0 795.5 1661.2 791.0 1662.7 787.0 C1664.2 783.1 1667.4 779.2 1668.7 775.2 C1670.0 771.2 1670.5 766.5 1670.7 763.0 C1670.9 759.4 1670.0 755.4 1669.9 753.8 L1672.3 753.8 C1672.5 755.4 1673.4 759.4 1673.3 763.0 C1673.2 766.5 1672.5 771.2 1671.5 775.2 C1670.5 779.2 1668.8 783.1 1667.5 787.0 C1666.2 791.0 1664.1 795.5 1663.5 798.9 C1662.9 802.2 1663.4 804.3 1663.9 807.0 C1664.4 809.8 1665.6 812.5 1666.7 815.2 C1667.8 817.9 1669.5 821.3 1670.3 823.0 C1671.1 824.8 1671.1 825.3 1671.3 825.8 Z" fill="url(#gS)"/>
<polygon points="1670.5,744.2 1665.4,754.1 1675.9,754.1" fill="url(#gS)"/>
<path d="M1691.2 825.8 C1691.1 825.3 1690.7 824.8 1690.4 823.0 C1690.1 821.3 1689.6 817.9 1689.2 815.2 C1688.8 812.5 1688.2 809.8 1688.0 807.0 C1687.8 804.3 1687.5 802.2 1688.0 798.9 C1688.5 795.5 1689.7 791.0 1691.2 787.0 C1692.7 783.1 1695.9 779.2 1697.2 775.2 C1698.5 771.2 1699.0 766.5 1699.2 763.0 C1699.4 759.4 1698.5 755.4 1698.4 753.8 L1700.8 753.8 C1701.0 755.4 1701.9 759.4 1701.8 763.0 C1701.7 766.5 1701.0 771.2 1700.0 775.2 C1699.0 779.2 1697.3 783.1 1696.0 787.0 C1694.7 791.0 1692.6 795.5 1692.0 798.9 C1691.4 802.2 1691.9 804.3 1692.4 807.0 C1692.9 809.8 1694.1 812.5 1695.2 815.2 C1696.3 817.9 1698.0 821.3 1698.8 823.0 C1699.6 824.8 1699.6 825.3 1699.8 825.8 Z" fill="url(#gS)"/>
<polygon points="1699.0,744.2 1693.9,754.1 1704.4,754.1" fill="url(#gS)"/>
</g>
<g id="steam2">
<path d="M1272.8 834.4 C1272.8 834.2 1272.6 834.0 1272.4 833.3 C1272.3 832.6 1272.1 831.2 1271.9 830.1 C1271.7 829.1 1271.4 827.9 1271.3 826.9 C1271.2 825.8 1271.1 824.9 1271.3 823.6 C1271.6 822.2 1272.1 820.4 1272.8 818.8 C1273.5 817.2 1275.0 815.7 1275.6 814.1 C1276.2 812.5 1276.4 810.6 1276.5 809.1 C1276.6 807.7 1276.2 806.1 1276.1 805.5 L1277.2 805.5 C1277.3 806.1 1277.7 807.7 1277.7 809.1 C1277.6 810.6 1277.3 812.5 1276.9 814.1 C1276.4 815.7 1275.6 817.2 1275.0 818.8 C1274.4 820.4 1273.5 822.2 1273.2 823.6 C1272.9 824.9 1273.1 825.8 1273.4 826.9 C1273.6 827.9 1274.2 829.1 1274.7 830.1 C1275.1 831.2 1276.0 832.6 1276.3 833.3 C1276.7 834.0 1276.7 834.2 1276.8 834.4 Z" fill="#1f86e2"/>
<polygon points="1276.4,801.6 1274.1,805.8 1278.9,805.8" fill="#1f86e2"/>
<path d="M1288.9 834.4 C1288.9 834.2 1288.7 834.0 1288.5 833.3 C1288.4 832.6 1288.2 831.2 1288.0 830.1 C1287.8 829.1 1287.5 827.9 1287.4 826.9 C1287.3 825.8 1287.2 824.9 1287.4 823.6 C1287.7 822.2 1288.2 820.4 1288.9 818.8 C1289.6 817.2 1291.1 815.7 1291.7 814.1 C1292.3 812.5 1292.5 810.6 1292.6 809.1 C1292.7 807.7 1292.3 806.1 1292.2 805.5 L1293.3 805.5 C1293.4 806.1 1293.8 807.7 1293.8 809.1 C1293.7 810.6 1293.4 812.5 1293.0 814.1 C1292.5 815.7 1291.7 817.2 1291.1 818.8 C1290.5 820.4 1289.6 822.2 1289.3 823.6 C1289.0 824.9 1289.2 825.8 1289.5 826.9 C1289.7 827.9 1290.3 829.1 1290.8 830.1 C1291.2 831.2 1292.1 832.6 1292.4 833.3 C1292.8 834.0 1292.8 834.2 1292.9 834.4 Z" fill="#1f86e2"/>
<polygon points="1292.5,801.6 1290.2,805.8 1295.0,805.8" fill="#1f86e2"/>
<path d="M1306.0 834.4 C1306.0 834.2 1305.8 834.0 1305.6 833.3 C1305.5 832.6 1305.3 831.2 1305.1 830.1 C1304.9 829.1 1304.6 827.9 1304.5 826.9 C1304.4 825.8 1304.3 824.9 1304.5 823.6 C1304.8 822.2 1305.3 820.4 1306.0 818.8 C1306.7 817.2 1308.2 815.7 1308.8 814.1 C1309.4 812.5 1309.6 810.6 1309.7 809.1 C1309.8 807.7 1309.4 806.1 1309.3 805.5 L1310.4 805.5 C1310.5 806.1 1310.9 807.7 1310.9 809.1 C1310.8 810.6 1310.5 812.5 1310.1 814.1 C1309.6 815.7 1308.8 817.2 1308.2 818.8 C1307.6 820.4 1306.7 822.2 1306.4 823.6 C1306.1 824.9 1306.3 825.8 1306.6 826.9 C1306.8 827.9 1307.4 829.1 1307.9 830.1 C1308.3 831.2 1309.2 832.6 1309.5 833.3 C1309.9 834.0 1309.9 834.2 1310.0 834.4 Z" fill="#1f86e2"/>
<polygon points="1309.6,801.6 1307.3,805.8 1312.1,805.8" fill="#1f86e2"/>
</g>
<g fill="none" stroke="#1a67a9" stroke-width="1.8"><ellipse cx="207.6" cy="732.0" rx="16.6" ry="16.2"/><ellipse cx="207.6" cy="732.0" rx="11.0" ry="11.6"/><polygon points="134.6,732.4 143.2,718.6 143.2,746.2"/><polygon points="283.4,731.3 274.6,718.0 274.6,744.6"/></g><rect x="147.00" y="726.0" width="2.1" height="11.5" fill="#1a67a9"/><rect x="152.12" y="726.0" width="2.1" height="11.5" fill="#1a67a9"/><rect x="157.23" y="726.0" width="2.1" height="11.5" fill="#1a67a9"/><rect x="162.35" y="726.0" width="2.1" height="11.5" fill="#1a67a9"/><rect x="167.47" y="726.0" width="2.1" height="11.5" fill="#1a67a9"/><rect x="172.58" y="726.0" width="2.1" height="11.5" fill="#1a67a9"/><rect x="177.70" y="726.0" width="2.1" height="11.5" fill="#1a67a9"/><rect x="238.40" y="726.3" width="2.1" height="11.1" fill="#1a67a9"/><rect x="243.42" y="726.3" width="2.1" height="11.1" fill="#1a67a9"/><rect x="248.43" y="726.3" width="2.1" height="11.1" fill="#1a67a9"/><rect x="253.45" y="726.3" width="2.1" height="11.1" fill="#1a67a9"/><rect x="258.47" y="726.3" width="2.1" height="11.1" fill="#1a67a9"/><rect x="263.48" y="726.3" width="2.1" height="11.1" fill="#1a67a9"/><rect x="268.50" y="726.3" width="2.1" height="11.1" fill="#1a67a9"/><text x="224.2" y="761.3" font-size="24.5" font-weight="bold" fill="#d9ecfa" fill-opacity="0.5" stroke="#1a67a9" stroke-width="1.25">2</text>
<g fill="none" stroke="#1a67a9" stroke-width="1.8"><ellipse cx="791.4" cy="777.4" rx="16.3" ry="15.9"/><ellipse cx="791.4" cy="777.4" rx="10.7" ry="11.3"/><polygon points="719.2,777.4 727.6,764.8 727.6,790.0"/><polygon points="868.6,776.6 859.8,764.0 859.8,789.2"/></g><rect x="732.20" y="770.6" width="2.1" height="12.0" fill="#1a67a9"/><rect x="737.12" y="770.6" width="2.1" height="12.0" fill="#1a67a9"/><rect x="742.03" y="770.6" width="2.1" height="12.0" fill="#1a67a9"/><rect x="746.95" y="770.6" width="2.1" height="12.0" fill="#1a67a9"/><rect x="751.87" y="770.6" width="2.1" height="12.0" fill="#1a67a9"/><rect x="756.78" y="770.6" width="2.1" height="12.0" fill="#1a67a9"/><rect x="761.70" y="770.6" width="2.1" height="12.0" fill="#1a67a9"/><rect x="822.60" y="770.6" width="2.1" height="12.0" fill="#1a67a9"/><rect x="827.62" y="770.6" width="2.1" height="12.0" fill="#1a67a9"/><rect x="832.63" y="770.6" width="2.1" height="12.0" fill="#1a67a9"/><rect x="837.65" y="770.6" width="2.1" height="12.0" fill="#1a67a9"/><rect x="842.67" y="770.6" width="2.1" height="12.0" fill="#1a67a9"/><rect x="847.68" y="770.6" width="2.1" height="12.0" fill="#1a67a9"/><rect x="852.70" y="770.6" width="2.1" height="12.0" fill="#1a67a9"/><text x="808.4" y="806.2" font-size="24.5" font-weight="bold" fill="#d9ecfa" fill-opacity="0.5" stroke="#1a67a9" stroke-width="1.25">2</text>
<g fill="none" stroke="#1a67a9" stroke-width="1.8"><ellipse cx="1475.0" cy="732.6" rx="16.3" ry="16.6"/><ellipse cx="1475.0" cy="732.6" rx="10.7" ry="12.0"/><polygon points="1401.6,732.3 1411.0,718.8 1411.0,745.8"/><polygon points="1551.0,731.4 1541.2,717.8 1541.2,745.0"/></g><rect x="1415.00" y="726.3" width="2.1" height="11.1" fill="#1a67a9"/><rect x="1420.03" y="726.3" width="2.1" height="11.1" fill="#1a67a9"/><rect x="1425.07" y="726.3" width="2.1" height="11.1" fill="#1a67a9"/><rect x="1430.10" y="726.3" width="2.1" height="11.1" fill="#1a67a9"/><rect x="1435.13" y="726.3" width="2.1" height="11.1" fill="#1a67a9"/><rect x="1440.17" y="726.3" width="2.1" height="11.1" fill="#1a67a9"/><rect x="1445.20" y="726.3" width="2.1" height="11.1" fill="#1a67a9"/><rect x="1505.80" y="726.2" width="2.1" height="11.2" fill="#1a67a9"/><rect x="1510.73" y="726.2" width="2.1" height="11.2" fill="#1a67a9"/><rect x="1515.67" y="726.2" width="2.1" height="11.2" fill="#1a67a9"/><rect x="1520.60" y="726.2" width="2.1" height="11.2" fill="#1a67a9"/><rect x="1525.53" y="726.2" width="2.1" height="11.2" fill="#1a67a9"/><rect x="1530.47" y="726.2" width="2.1" height="11.2" fill="#1a67a9"/><rect x="1535.40" y="726.2" width="2.1" height="11.2" fill="#1a67a9"/><text x="1491.0" y="761.0" font-size="24.5" font-weight="bold" fill="#d9ecfa" fill-opacity="0.5" stroke="#1a67a9" stroke-width="1.25">2</text>
<text x="197.3" y="873.6" font-size="19.5" font-style="italic" fill="#adadad" textLength="121.7" lengthAdjust="spacingAndGlyphs">Nursery garden</text>
<text x="739.4" y="873.6" font-size="19.5" font-style="italic" fill="#adadad" textLength="142.6" lengthAdjust="spacingAndGlyphs">Landscape garden</text>
<text x="1275.0" y="874.0" font-size="19.5" font-style="italic" fill="#adadad" textLength="36.0" lengthAdjust="spacingAndGlyphs">Lake</text>
<text x="1633.8" y="873.6" font-size="19.5" font-style="italic" fill="#adadad" textLength="36.2" lengthAdjust="spacingAndGlyphs">Lake</text>
<text x="1632.5" y="696.6" font-size="20" font-style="italic" fill="#adadad" textLength="225.5" lengthAdjust="spacingAndGlyphs">Main wind direction - South</text>
<text x="1707.5" y="825.3" font-size="19.5" font-style="italic" fill="#adadad" textLength="101.3" lengthAdjust="spacingAndGlyphs">Water steam</text>
<text x="113" y="152" font-size="35" font-weight="bold" fill="#1d1b1c" textLength="153.8" lengthAdjust="spacingAndGlyphs">NATURAL</text>
<text x="276" y="152" font-size="35" font-weight="bold" fill="#1d1b1c" textLength="218.3" lengthAdjust="spacingAndGlyphs">VENTILATION</text>
<text x="417.5" y="948" font-size="27" word-spacing="-1.2" fill="#262626" stroke="#fff" stroke-width="0.8" textLength="1161" lengthAdjust="spacingAndGlyphs">The inner courtyard plays a decisive role in natural ventilation. South wind blows to the building façade,</text>
<text x="417.5" y="980" font-size="27" word-spacing="-1.2" fill="#262626" stroke="#fff" stroke-width="0.8" textLength="1161" lengthAdjust="spacingAndGlyphs">pass through the main hall, bring a huge amount of steam from landscape ponds which helps cool down</text>
<text x="417.5" y="1012" font-size="27" word-spacing="-1.2" fill="#262626" stroke="#fff" stroke-width="0.8" textLength="1081" lengthAdjust="spacingAndGlyphs">the material façade and end up take the heat from the building through the wide-opened atrium.</text>
</svg>
</body></html>
